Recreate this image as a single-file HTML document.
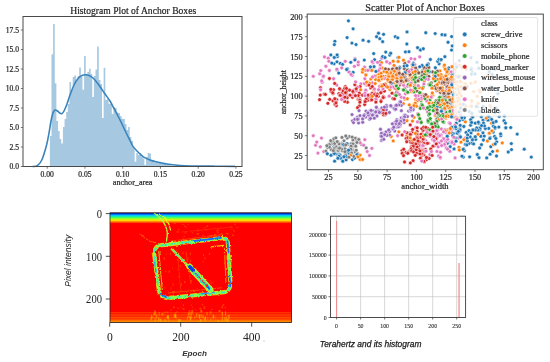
<!DOCTYPE html>
<html lang="en"><head><meta charset="utf-8"><title>Anchor box plots</title>
<style>
html,body{margin:0;padding:0;background:#fff;}
body{width:550px;height:362px;overflow:hidden;}
svg{display:block;}
.ser{font-family:"Liberation Serif","DejaVu Serif",serif;}
.san{font-family:"Liberation Sans","DejaVu Sans",sans-serif;}
#all{filter:blur(0.4px);}
</style></head><body>
<svg width="550" height="362" viewBox="0 0 550 362">
<rect width="550" height="362" fill="#fff"/>
<g id="all">
<g id="hist">
<path d="M49.87,166.5L49.87,136L51.5,136L51.5,54.3L53.13,54.3L53.13,23.9L54.76,23.9L54.76,83.2L56.39,83.2L56.39,121L58.02,121L58.02,131L59.65,131L59.65,139L61.28,139L61.28,143.6L62.91,143.6L62.91,127L64.54,127L64.54,119L66.17,119L66.17,112L67.8,112L67.8,104L69.43,104L69.43,82L71.06,82L71.06,90L72.69,90L72.69,77L74.32,77L74.32,75.5L75.95,75.5L75.95,80L77.58,80L77.58,76L79.21,76L79.21,67.5L80.84,67.5L80.84,77L82.47,77L82.47,89.8L84.1,89.8L84.1,55.9L85.73,55.9L85.73,74L87.36,74L87.36,72L88.99,72L88.99,68.8L90.62,68.8L90.62,74L92.25,74L92.25,97L93.88,97L93.88,76L95.51,76L95.51,69.4L97.14,69.4L97.14,46.5L98.77,46.5L98.77,80L100.4,80L100.4,84L102.03,84L102.03,118L103.66,118L103.66,67.7L105.29,67.7L105.29,100L106.92,100L106.92,99L108.55,99L108.55,103.7L110.18,103.7L110.18,104L111.81,104L111.81,114L113.44,114L113.44,107L115.07,107L115.07,108L116.7,108L116.7,112.5L118.33,112.5L118.33,113L119.96,113L119.96,116L121.59,116L121.59,118.7L123.22,118.7L123.22,119L124.85,119L124.85,124L126.48,124L126.48,130L128.11,130L128.11,127L129.74,127L129.74,137L131.37,137L131.37,141L133,141L133,148L134.63,148L134.63,161.8L136.26,161.8L136.26,153L137.89,153L137.89,155L139.52,155L139.52,153L141.15,153L141.15,157L142.78,157L142.78,158.5L144.41,158.5L144.41,165L146.04,165L146.04,157L147.67,157L147.67,153L149.3,153L149.3,153.5L150.93,153.5L150.93,161L152.56,161L152.56,160.5L154.19,160.5L154.19,162.5L155.82,162.5L155.82,161L157.45,161L157.45,163L159.08,163L159.08,162L160.71,162L160.71,163.5L162.34,163.5L162.34,164L163.97,164L163.97,163L165.6,163L165.6,164.5L167.23,164.5L167.23,164L168.86,164L168.86,165.2L170.49,165.2L170.49,165.5L172.12,165.5L172.12,166.5ZM175.38,166.5L175.38,165.4L177.01,165.4L177.01,166.5ZM186.79,166.5L186.79,165.5L188.42,165.5L188.42,165.2L190.05,165.2L190.05,166.5ZM207.98,166.5L207.98,165.6L209.61,165.6L209.61,166.5ZM211.24,166.5L211.24,165.2L212.87,165.2L212.87,165.4L214.5,165.4L214.5,166.5Z" fill="#a6c8e0"/>
<path d="M32.5,166.5C33.3,166.37 35.75,166.78 37.3,165.7C38.85,164.62 40.43,162.78 41.8,160C43.17,157.22 44.53,152.25 45.5,149C46.47,145.75 46.98,143.33 47.6,140.5C48.22,137.67 48.63,135.25 49.2,132C49.77,128.75 50.37,124.17 51,121C51.63,117.83 52.33,114.83 53,113C53.67,111.17 54.25,110.33 55,110C55.75,109.67 56.67,110.45 57.5,111C58.33,111.55 59.25,112.88 60,113.3C60.75,113.72 61.33,113.88 62,113.5C62.67,113.12 63.17,112.58 64,111C64.83,109.42 66,106.67 67,104C68,101.33 68.83,98.17 70,95C71.17,91.83 72.67,87.75 74,85C75.33,82.25 76.67,80.08 78,78.5C79.33,76.92 80.75,76.12 82,75.5C83.25,74.88 84.33,74.8 85.5,74.8C86.67,74.8 87.75,74.97 89,75.5C90.25,76.03 91.67,76.83 93,78C94.33,79.17 95.67,80.83 97,82.5C98.33,84.17 99.67,86.08 101,88C102.33,89.92 103.5,91.83 105,94C106.5,96.17 108.5,98.58 110,101C111.5,103.42 112.67,106 114,108.5C115.33,111 116.67,113.42 118,116C119.33,118.58 120.67,121.25 122,124C123.33,126.75 124.67,129.75 126,132.5C127.33,135.25 128.83,138.18 130,140.5C131.17,142.82 131.83,144.65 133,146.4C134.17,148.15 135.67,149.6 137,151C138.33,152.4 139.8,153.73 141,154.8C142.2,155.87 142.7,156.53 144.2,157.4C145.7,158.27 148.03,159.27 150,160C151.97,160.73 154.33,161.37 156,161.8C157.67,162.23 158.17,162.23 160,162.6C161.83,162.97 164.5,163.6 167,164C169.5,164.4 172,164.7 175,165C178,165.3 181.67,165.62 185,165.8C188.33,165.98 190,166.03 195,166.1C200,166.17 208.33,166.15 215,166.2C221.67,166.25 231.67,166.37 235,166.4" fill="none" stroke="#3a84bd" stroke-width="1.6" stroke-linejoin="round"/>
<rect x="23" y="16.5" width="219" height="150" fill="none" stroke="#4a4a4a" stroke-width="1"/>
<g stroke="#444" stroke-width="0.7">
<line x1="47.2" y1="166.5" x2="47.2" y2="168.7"/>
<line x1="84.95" y1="166.5" x2="84.95" y2="168.7"/>
<line x1="122.7" y1="166.5" x2="122.7" y2="168.7"/>
<line x1="160.45" y1="166.5" x2="160.45" y2="168.7"/>
<line x1="198.2" y1="166.5" x2="198.2" y2="168.7"/>
<line x1="235.95" y1="166.5" x2="235.95" y2="168.7"/>
<line x1="20.8" y1="166.5" x2="23" y2="166.5"/>
<line x1="20.8" y1="147" x2="23" y2="147"/>
<line x1="20.8" y1="127.5" x2="23" y2="127.5"/>
<line x1="20.8" y1="108" x2="23" y2="108"/>
<line x1="20.8" y1="88.5" x2="23" y2="88.5"/>
<line x1="20.8" y1="69" x2="23" y2="69"/>
<line x1="20.8" y1="49.5" x2="23" y2="49.5"/>
<line x1="20.8" y1="30" x2="23" y2="30"/>
</g>
<g class="ser" font-size="7.6" fill="#262626" stroke="#262626" stroke-width="0.22">
<text x="47.2" y="176.9" text-anchor="middle">0.00</text>
<text x="84.95" y="176.9" text-anchor="middle">0.05</text>
<text x="122.7" y="176.9" text-anchor="middle">0.10</text>
<text x="160.45" y="176.9" text-anchor="middle">0.15</text>
<text x="198.2" y="176.9" text-anchor="middle">0.20</text>
<text x="235.95" y="176.9" text-anchor="middle">0.25</text>
<text x="19" y="169.1" text-anchor="end">0.0</text>
<text x="19" y="149.6" text-anchor="end">2.5</text>
<text x="19" y="130.1" text-anchor="end">5.0</text>
<text x="19" y="110.6" text-anchor="end">7.5</text>
<text x="19" y="91.1" text-anchor="end">10.0</text>
<text x="19" y="71.6" text-anchor="end">12.5</text>
<text x="19" y="52.1" text-anchor="end">15.0</text>
<text x="19" y="32.6" text-anchor="end">17.5</text>
<text x="132.6" y="185.3" text-anchor="middle" font-size="8.1">anchor_area</text>
</g>
<text class="ser" x="70.2" y="13.5" font-size="9.7" fill="#222" stroke="#222" stroke-width="0.2" textLength="126" lengthAdjust="spacingAndGlyphs">Histogram Plot of Anchor Boxes</text>
</g>
<g id="scatter">
<g stroke="#fff" stroke-width="0.55">
<circle cx="397.96" cy="57.62" r="1.9" fill="#1f77b4"/>
<circle cx="342.97" cy="93.2" r="1.9" fill="#d62728"/>
<circle cx="394.14" cy="82.9" r="1.9" fill="#ff7f0e"/>
<circle cx="454.84" cy="71.53" r="1.9" fill="#e377c2"/>
<circle cx="426.79" cy="100.85" r="1.9" fill="#2ca02c"/>
<circle cx="346.17" cy="159.83" r="1.9" fill="#1f77b4"/>
<circle cx="371.61" cy="87.46" r="1.9" fill="#d62728"/>
<circle cx="437.59" cy="116.99" r="1.9" fill="#2ca02c"/>
<circle cx="365.58" cy="115.91" r="1.9" fill="#9467bd"/>
<circle cx="443.27" cy="145.26" r="1.9" fill="#e377c2"/>
<circle cx="412.05" cy="132.34" r="1.9" fill="#d62728"/>
<circle cx="351.94" cy="43.04" r="1.9" fill="#1f77b4"/>
<circle cx="341.9" cy="143.13" r="1.9" fill="#7f7f7f"/>
<circle cx="343.54" cy="98.56" r="1.9" fill="#d62728"/>
<circle cx="416.13" cy="143.55" r="1.9" fill="#d62728"/>
<circle cx="491.58" cy="123.21" r="1.9" fill="#ff7f0e"/>
<circle cx="378.99" cy="62.43" r="1.9" fill="#ff7f0e"/>
<circle cx="447.94" cy="88.19" r="1.9" fill="#8c564b"/>
<circle cx="436.64" cy="119.44" r="1.9" fill="#8c564b"/>
<circle cx="447.24" cy="89.54" r="1.9" fill="#ff7f0e"/>
<circle cx="415.52" cy="140.59" r="1.9" fill="#ff7f0e"/>
<circle cx="419.03" cy="143.85" r="1.9" fill="#d62728"/>
<circle cx="420.65" cy="141.68" r="1.9" fill="#d62728"/>
<circle cx="447.15" cy="95.06" r="1.9" fill="#8c564b"/>
<circle cx="421.92" cy="75.69" r="1.9" fill="#2ca02c"/>
<circle cx="436.97" cy="151.4" r="1.9" fill="#e377c2"/>
<circle cx="433.66" cy="88.11" r="1.9" fill="#2ca02c"/>
<circle cx="470.92" cy="83.34" r="1.9" fill="#ff7f0e"/>
<circle cx="496.72" cy="141.8" r="1.9" fill="#1f77b4"/>
<circle cx="347.37" cy="102.18" r="1.9" fill="#d62728"/>
<circle cx="436.77" cy="113.05" r="1.9" fill="#2ca02c"/>
<circle cx="359.57" cy="141.69" r="1.9" fill="#7f7f7f"/>
<circle cx="457.55" cy="103.56" r="1.9" fill="#ff7f0e"/>
<circle cx="424.04" cy="138.58" r="1.9" fill="#e377c2"/>
<circle cx="396.26" cy="125.69" r="1.9" fill="#9467bd"/>
<circle cx="349.44" cy="136.59" r="1.9" fill="#7f7f7f"/>
<circle cx="470.92" cy="57.76" r="1.9" fill="#1f77b4"/>
<circle cx="404.38" cy="68.74" r="1.9" fill="#8c564b"/>
<circle cx="437.2" cy="137.34" r="1.9" fill="#e377c2"/>
<circle cx="442.65" cy="89.06" r="1.9" fill="#ff7f0e"/>
<circle cx="443.14" cy="104.12" r="1.9" fill="#2ca02c"/>
<circle cx="364.86" cy="78.76" r="1.9" fill="#e377c2"/>
<circle cx="398.11" cy="61.47" r="1.9" fill="#ff7f0e"/>
<circle cx="430.06" cy="99.96" r="1.9" fill="#2ca02c"/>
<circle cx="457.51" cy="96.09" r="1.9" fill="#ff7f0e"/>
<circle cx="371.94" cy="94.71" r="1.9" fill="#e377c2"/>
<circle cx="427.34" cy="157.5" r="1.9" fill="#e377c2"/>
<circle cx="399.99" cy="126.2" r="1.9" fill="#e377c2"/>
<circle cx="408.26" cy="139.8" r="1.9" fill="#d62728"/>
<circle cx="426.98" cy="72.1" r="1.9" fill="#ff7f0e"/>
<circle cx="419.57" cy="137.86" r="1.9" fill="#d62728"/>
<circle cx="402.34" cy="82.39" r="1.9" fill="#ff7f0e"/>
<circle cx="451.76" cy="110.11" r="1.9" fill="#2ca02c"/>
<circle cx="423.55" cy="94.58" r="1.9" fill="#8c564b"/>
<circle cx="368.16" cy="114.74" r="1.9" fill="#d62728"/>
<circle cx="385.34" cy="114.75" r="1.9" fill="#9467bd"/>
<circle cx="442.51" cy="95.9" r="1.9" fill="#ff7f0e"/>
<circle cx="417.9" cy="138.35" r="1.9" fill="#d62728"/>
<circle cx="324.15" cy="94.1" r="1.9" fill="#d62728"/>
<circle cx="402.28" cy="120.98" r="1.9" fill="#9467bd"/>
<circle cx="352.49" cy="120.87" r="1.9" fill="#9467bd"/>
<circle cx="449.65" cy="142.62" r="1.9" fill="#e377c2"/>
<circle cx="389.81" cy="89.48" r="1.9" fill="#ff7f0e"/>
<circle cx="483.04" cy="120.08" r="1.9" fill="#1f77b4"/>
<circle cx="384.06" cy="71.56" r="1.9" fill="#ff7f0e"/>
<circle cx="517.19" cy="134.12" r="1.9" fill="#1f77b4"/>
<circle cx="456.28" cy="123.17" r="1.9" fill="#1f77b4"/>
<circle cx="336.95" cy="147.22" r="1.9" fill="#7f7f7f"/>
<circle cx="359.94" cy="94.38" r="1.9" fill="#d62728"/>
<circle cx="475.26" cy="123.19" r="1.9" fill="#1f77b4"/>
<circle cx="431.25" cy="150.21" r="1.9" fill="#e377c2"/>
<circle cx="394.89" cy="67.44" r="1.9" fill="#1f77b4"/>
<circle cx="494.96" cy="128.44" r="1.9" fill="#1f77b4"/>
<circle cx="354.28" cy="156.67" r="1.9" fill="#ff7f0e"/>
<circle cx="439.26" cy="98.73" r="1.9" fill="#1f77b4"/>
<circle cx="413.95" cy="117.25" r="1.9" fill="#ff7f0e"/>
<circle cx="376.07" cy="75.93" r="1.9" fill="#ff7f0e"/>
<circle cx="485.21" cy="108.38" r="1.9" fill="#1f77b4"/>
<circle cx="389.49" cy="72.73" r="1.9" fill="#ff7f0e"/>
<circle cx="418.9" cy="146.14" r="1.9" fill="#d62728"/>
<circle cx="404.54" cy="162.01" r="1.9" fill="#d62728"/>
<circle cx="422.28" cy="134.02" r="1.9" fill="#d62728"/>
<circle cx="441.03" cy="92.8" r="1.9" fill="#8c564b"/>
<circle cx="417.06" cy="70.48" r="1.9" fill="#8c564b"/>
<circle cx="465.27" cy="138.01" r="1.9" fill="#e377c2"/>
<circle cx="327.65" cy="147.49" r="1.9" fill="#7f7f7f"/>
<circle cx="451.13" cy="71.93" r="1.9" fill="#e377c2"/>
<circle cx="344.42" cy="148.63" r="1.9" fill="#1f77b4"/>
<circle cx="336.74" cy="99.69" r="1.9" fill="#d62728"/>
<circle cx="393.94" cy="74.08" r="1.9" fill="#ff7f0e"/>
<circle cx="416.74" cy="137.24" r="1.9" fill="#d62728"/>
<circle cx="378.18" cy="96.26" r="1.9" fill="#d62728"/>
<circle cx="362.58" cy="95.14" r="1.9" fill="#d62728"/>
<circle cx="425.99" cy="108.82" r="1.9" fill="#2ca02c"/>
<circle cx="373.86" cy="91.38" r="1.9" fill="#ff7f0e"/>
<circle cx="452.4" cy="87.3" r="1.9" fill="#ff7f0e"/>
<circle cx="332.19" cy="154.53" r="1.9" fill="#1f77b4"/>
<circle cx="375.78" cy="101.93" r="1.9" fill="#d62728"/>
<circle cx="461.25" cy="126.12" r="1.9" fill="#ff7f0e"/>
<circle cx="352.47" cy="159.54" r="1.9" fill="#1f77b4"/>
<circle cx="459.79" cy="128.74" r="1.9" fill="#e377c2"/>
<circle cx="436.56" cy="141.43" r="1.9" fill="#e377c2"/>
<circle cx="424.48" cy="161.8" r="1.9" fill="#d62728"/>
<circle cx="453.4" cy="133.33" r="1.9" fill="#1f77b4"/>
<circle cx="379.54" cy="75.42" r="1.9" fill="#ff7f0e"/>
<circle cx="443.34" cy="83.86" r="1.9" fill="#8c564b"/>
<circle cx="381.04" cy="100.5" r="1.9" fill="#d62728"/>
<circle cx="459.47" cy="75.28" r="1.9" fill="#ff7f0e"/>
<circle cx="508.21" cy="151.98" r="1.9" fill="#1f77b4"/>
<circle cx="377.76" cy="110.47" r="1.9" fill="#9467bd"/>
<circle cx="383.37" cy="96.33" r="1.9" fill="#d62728"/>
<circle cx="445.26" cy="93.64" r="1.9" fill="#2ca02c"/>
<circle cx="450.98" cy="92" r="1.9" fill="#ff7f0e"/>
<circle cx="352.39" cy="149.2" r="1.9" fill="#7f7f7f"/>
<circle cx="457.85" cy="86.47" r="1.9" fill="#ff7f0e"/>
<circle cx="446.04" cy="109.23" r="1.9" fill="#2ca02c"/>
<circle cx="369.58" cy="117.09" r="1.9" fill="#9467bd"/>
<circle cx="438.23" cy="106.41" r="1.9" fill="#2ca02c"/>
<circle cx="464.45" cy="150.71" r="1.9" fill="#1f77b4"/>
<circle cx="443.64" cy="122.25" r="1.9" fill="#2ca02c"/>
<circle cx="424.3" cy="80.98" r="1.9" fill="#ff7f0e"/>
<circle cx="454.06" cy="148.93" r="1.9" fill="#1f77b4"/>
<circle cx="408.3" cy="80.04" r="1.9" fill="#8c564b"/>
<circle cx="431.8" cy="133.14" r="1.9" fill="#2ca02c"/>
<circle cx="456.26" cy="94.78" r="1.9" fill="#8c564b"/>
<circle cx="383.22" cy="76.59" r="1.9" fill="#8c564b"/>
<circle cx="489.17" cy="133.62" r="1.9" fill="#ff7f0e"/>
<circle cx="376.25" cy="99.39" r="1.9" fill="#d62728"/>
<circle cx="447.97" cy="73.8" r="1.9" fill="#ff7f0e"/>
<circle cx="442.54" cy="80.44" r="1.9" fill="#8c564b"/>
<circle cx="366.15" cy="147.88" r="1.9" fill="#7f7f7f"/>
<circle cx="337.23" cy="69.96" r="1.9" fill="#1f77b4"/>
<circle cx="438.93" cy="82.61" r="1.9" fill="#ff7f0e"/>
<circle cx="374.52" cy="59.74" r="1.9" fill="#1f77b4"/>
<circle cx="401.2" cy="117.97" r="1.9" fill="#9467bd"/>
<circle cx="406.02" cy="91" r="1.9" fill="#2ca02c"/>
<circle cx="431.33" cy="131.03" r="1.9" fill="#e377c2"/>
<circle cx="449.73" cy="105.79" r="1.9" fill="#8c564b"/>
<circle cx="443.92" cy="92.43" r="1.9" fill="#ff7f0e"/>
<circle cx="399.69" cy="67.13" r="1.9" fill="#8c564b"/>
<circle cx="388.35" cy="76.51" r="1.9" fill="#ff7f0e"/>
<circle cx="356.05" cy="44.54" r="1.9" fill="#1f77b4"/>
<circle cx="421.02" cy="100.64" r="1.9" fill="#2ca02c"/>
<circle cx="456.08" cy="118.61" r="1.9" fill="#e377c2"/>
<circle cx="410.12" cy="150.63" r="1.9" fill="#d62728"/>
<circle cx="423.02" cy="146.51" r="1.9" fill="#d62728"/>
<circle cx="427.62" cy="111.91" r="1.9" fill="#e377c2"/>
<circle cx="411.34" cy="146.84" r="1.9" fill="#d62728"/>
<circle cx="445.97" cy="84.1" r="1.9" fill="#8c564b"/>
<circle cx="328.22" cy="58.24" r="1.9" fill="#e377c2"/>
<circle cx="422.98" cy="95.58" r="1.9" fill="#ff7f0e"/>
<circle cx="397.26" cy="125.34" r="1.9" fill="#9467bd"/>
<circle cx="389.85" cy="129.77" r="1.9" fill="#9467bd"/>
<circle cx="341.05" cy="158.75" r="1.9" fill="#1f77b4"/>
<circle cx="446.66" cy="88.63" r="1.9" fill="#ff7f0e"/>
<circle cx="450.71" cy="105.6" r="1.9" fill="#1f77b4"/>
<circle cx="407.42" cy="116.5" r="1.9" fill="#9467bd"/>
<circle cx="412.12" cy="142.22" r="1.9" fill="#d62728"/>
<circle cx="390.01" cy="78.09" r="1.9" fill="#ff7f0e"/>
<circle cx="425.75" cy="140.61" r="1.9" fill="#e377c2"/>
<circle cx="491.22" cy="56.9" r="1.9" fill="#1f77b4"/>
<circle cx="416.05" cy="73.42" r="1.9" fill="#e377c2"/>
<circle cx="396.36" cy="81.6" r="1.9" fill="#ff7f0e"/>
<circle cx="427.06" cy="127.85" r="1.9" fill="#2ca02c"/>
<circle cx="353.12" cy="72.35" r="1.9" fill="#1f77b4"/>
<circle cx="410.63" cy="78.14" r="1.9" fill="#ff7f0e"/>
<circle cx="394.04" cy="65.39" r="1.9" fill="#ff7f0e"/>
<circle cx="411.67" cy="146.94" r="1.9" fill="#d62728"/>
<circle cx="407.43" cy="86.18" r="1.9" fill="#e377c2"/>
<circle cx="328.98" cy="144.27" r="1.9" fill="#7f7f7f"/>
<circle cx="450.65" cy="103.66" r="1.9" fill="#ff7f0e"/>
<circle cx="454.2" cy="81.29" r="1.9" fill="#1f77b4"/>
<circle cx="454.08" cy="79.44" r="1.9" fill="#8c564b"/>
<circle cx="397.18" cy="78.26" r="1.9" fill="#ff7f0e"/>
<circle cx="331.01" cy="148.93" r="1.9" fill="#7f7f7f"/>
<circle cx="393.05" cy="128.96" r="1.9" fill="#9467bd"/>
<circle cx="352.54" cy="97.24" r="1.9" fill="#d62728"/>
<circle cx="414.7" cy="143.33" r="1.9" fill="#d62728"/>
<circle cx="449.22" cy="108.27" r="1.9" fill="#ff7f0e"/>
<circle cx="435.6" cy="142.74" r="1.9" fill="#e377c2"/>
<circle cx="391.16" cy="136.5" r="1.9" fill="#ff7f0e"/>
<circle cx="415.68" cy="127.44" r="1.9" fill="#e377c2"/>
<circle cx="436.66" cy="109.99" r="1.9" fill="#ff7f0e"/>
<circle cx="462.64" cy="88.74" r="1.9" fill="#8c564b"/>
<circle cx="352.42" cy="148.22" r="1.9" fill="#7f7f7f"/>
<circle cx="493.86" cy="109.14" r="1.9" fill="#1f77b4"/>
<circle cx="396.72" cy="119.84" r="1.9" fill="#9467bd"/>
<circle cx="436.96" cy="124.67" r="1.9" fill="#2ca02c"/>
<circle cx="445.58" cy="84.41" r="1.9" fill="#8c564b"/>
<circle cx="436.58" cy="90.83" r="1.9" fill="#e377c2"/>
<circle cx="496.5" cy="156" r="1.9" fill="#1f77b4"/>
<circle cx="350.77" cy="62.34" r="1.9" fill="#1f77b4"/>
<circle cx="395.07" cy="123.72" r="1.9" fill="#9467bd"/>
<circle cx="394.91" cy="109.54" r="1.9" fill="#9467bd"/>
<circle cx="396.3" cy="125.98" r="1.9" fill="#9467bd"/>
<circle cx="337" cy="61.84" r="1.9" fill="#1f77b4"/>
<circle cx="384.12" cy="133.02" r="1.9" fill="#9467bd"/>
<circle cx="449.95" cy="103.13" r="1.9" fill="#1f77b4"/>
<circle cx="450.26" cy="131.8" r="1.9" fill="#1f77b4"/>
<circle cx="389.41" cy="86.48" r="1.9" fill="#ff7f0e"/>
<circle cx="446.83" cy="83.22" r="1.9" fill="#8c564b"/>
<circle cx="405.48" cy="77.69" r="1.9" fill="#8c564b"/>
<circle cx="406.9" cy="135.65" r="1.9" fill="#ff7f0e"/>
<circle cx="332.91" cy="100.78" r="1.9" fill="#d62728"/>
<circle cx="478.99" cy="157.69" r="1.9" fill="#1f77b4"/>
<circle cx="404.74" cy="88.46" r="1.9" fill="#e377c2"/>
<circle cx="459.59" cy="65.32" r="1.9" fill="#ff7f0e"/>
<circle cx="448.83" cy="90.07" r="1.9" fill="#ff7f0e"/>
<circle cx="466.35" cy="139.93" r="1.9" fill="#1f77b4"/>
<circle cx="469.36" cy="111.73" r="1.9" fill="#1f77b4"/>
<circle cx="398.63" cy="104.93" r="1.9" fill="#9467bd"/>
<circle cx="415.76" cy="104.4" r="1.9" fill="#ff7f0e"/>
<circle cx="459.85" cy="136.1" r="1.9" fill="#1f77b4"/>
<circle cx="448.93" cy="106.23" r="1.9" fill="#8c564b"/>
<circle cx="370.07" cy="111.61" r="1.9" fill="#9467bd"/>
<circle cx="424.06" cy="107.72" r="1.9" fill="#ff7f0e"/>
<circle cx="453.84" cy="116.21" r="1.9" fill="#ff7f0e"/>
<circle cx="338.88" cy="93.68" r="1.9" fill="#d62728"/>
<circle cx="347.17" cy="138.05" r="1.9" fill="#7f7f7f"/>
<circle cx="439.91" cy="70.97" r="1.9" fill="#ff7f0e"/>
<circle cx="336.79" cy="154.21" r="1.9" fill="#1f77b4"/>
<circle cx="436.79" cy="102.06" r="1.9" fill="#ff7f0e"/>
<circle cx="449.78" cy="92.96" r="1.9" fill="#8c564b"/>
<circle cx="426.56" cy="130.21" r="1.9" fill="#d62728"/>
<circle cx="435.4" cy="111.11" r="1.9" fill="#ff7f0e"/>
<circle cx="338.78" cy="151.41" r="1.9" fill="#7f7f7f"/>
<circle cx="435.25" cy="115.43" r="1.9" fill="#ff7f0e"/>
<circle cx="399.64" cy="102.52" r="1.9" fill="#9467bd"/>
<circle cx="396.09" cy="122.54" r="1.9" fill="#9467bd"/>
<circle cx="461.37" cy="88.26" r="1.9" fill="#ff7f0e"/>
<circle cx="426.72" cy="100.72" r="1.9" fill="#e377c2"/>
<circle cx="460.71" cy="109.57" r="1.9" fill="#e377c2"/>
<circle cx="434.72" cy="126.29" r="1.9" fill="#d62728"/>
<circle cx="347.63" cy="144.43" r="1.9" fill="#7f7f7f"/>
<circle cx="412.35" cy="64.55" r="1.9" fill="#8c564b"/>
<circle cx="421.09" cy="121.84" r="1.9" fill="#d62728"/>
<circle cx="417.29" cy="134.77" r="1.9" fill="#d62728"/>
<circle cx="404.75" cy="76.13" r="1.9" fill="#1f77b4"/>
<circle cx="422.44" cy="70.92" r="1.9" fill="#2ca02c"/>
<circle cx="409.92" cy="85.76" r="1.9" fill="#2ca02c"/>
<circle cx="383.75" cy="111.25" r="1.9" fill="#d62728"/>
<circle cx="446.81" cy="89.61" r="1.9" fill="#e377c2"/>
<circle cx="472.67" cy="129.79" r="1.9" fill="#1f77b4"/>
<circle cx="423.55" cy="128.86" r="1.9" fill="#d62728"/>
<circle cx="423.88" cy="151.8" r="1.9" fill="#d62728"/>
<circle cx="441.45" cy="110.5" r="1.9" fill="#2ca02c"/>
<circle cx="424.35" cy="142.03" r="1.9" fill="#e377c2"/>
<circle cx="477.3" cy="154.49" r="1.9" fill="#1f77b4"/>
<circle cx="441.84" cy="83.82" r="1.9" fill="#ff7f0e"/>
<circle cx="334.89" cy="151.29" r="1.9" fill="#1f77b4"/>
<circle cx="500.78" cy="135.7" r="1.9" fill="#1f77b4"/>
<circle cx="448.21" cy="86.84" r="1.9" fill="#8c564b"/>
<circle cx="395.3" cy="36.7" r="1.9" fill="#1f77b4"/>
<circle cx="372.87" cy="111" r="1.9" fill="#9467bd"/>
<circle cx="403.34" cy="103.68" r="1.9" fill="#ff7f0e"/>
<circle cx="455.08" cy="157.88" r="1.9" fill="#e377c2"/>
<circle cx="453.13" cy="114.04" r="1.9" fill="#ff7f0e"/>
<circle cx="354.88" cy="155.85" r="1.9" fill="#ff7f0e"/>
<circle cx="458.94" cy="147.37" r="1.9" fill="#ff7f0e"/>
<circle cx="343.79" cy="145.29" r="1.9" fill="#7f7f7f"/>
<circle cx="407.36" cy="79.35" r="1.9" fill="#ff7f0e"/>
<circle cx="477.53" cy="106.87" r="1.9" fill="#1f77b4"/>
<circle cx="442.93" cy="95.54" r="1.9" fill="#ff7f0e"/>
<circle cx="401.24" cy="105.47" r="1.9" fill="#9467bd"/>
<circle cx="482.98" cy="132.84" r="1.9" fill="#1f77b4"/>
<circle cx="444.35" cy="116.77" r="1.9" fill="#ff7f0e"/>
<circle cx="442.11" cy="99.95" r="1.9" fill="#8c564b"/>
<circle cx="347.71" cy="156.99" r="1.9" fill="#1f77b4"/>
<circle cx="390.19" cy="105.94" r="1.9" fill="#9467bd"/>
<circle cx="447.46" cy="105.35" r="1.9" fill="#ff7f0e"/>
<circle cx="360.07" cy="159.51" r="1.9" fill="#ff7f0e"/>
<circle cx="404.14" cy="122.54" r="1.9" fill="#9467bd"/>
<circle cx="396.57" cy="79.32" r="1.9" fill="#ff7f0e"/>
<circle cx="365.66" cy="74.6" r="1.9" fill="#e377c2"/>
<circle cx="440.36" cy="158.08" r="1.9" fill="#e377c2"/>
<circle cx="382.06" cy="68" r="1.9" fill="#ff7f0e"/>
<circle cx="471.5" cy="143.01" r="1.9" fill="#1f77b4"/>
<circle cx="414.51" cy="150.8" r="1.9" fill="#d62728"/>
<circle cx="352.3" cy="154.58" r="1.9" fill="#1f77b4"/>
<circle cx="385.81" cy="76.48" r="1.9" fill="#ff7f0e"/>
<circle cx="396.85" cy="119.66" r="1.9" fill="#9467bd"/>
<circle cx="402.05" cy="150.4" r="1.9" fill="#d62728"/>
<circle cx="446.57" cy="97.5" r="1.9" fill="#8c564b"/>
<circle cx="337.39" cy="56.62" r="1.9" fill="#1f77b4"/>
<circle cx="421.37" cy="76.62" r="1.9" fill="#2ca02c"/>
<circle cx="421.47" cy="99.11" r="1.9" fill="#ff7f0e"/>
<circle cx="478.13" cy="103.5" r="1.9" fill="#ff7f0e"/>
<circle cx="401.51" cy="81.86" r="1.9" fill="#8c564b"/>
<circle cx="338.16" cy="156.57" r="1.9" fill="#7f7f7f"/>
<circle cx="442.89" cy="121.5" r="1.9" fill="#2ca02c"/>
<circle cx="405.44" cy="51.94" r="1.9" fill="#1f77b4"/>
<circle cx="409.47" cy="137.02" r="1.9" fill="#d62728"/>
<circle cx="456.72" cy="98.87" r="1.9" fill="#ff7f0e"/>
<circle cx="457.81" cy="118.81" r="1.9" fill="#ff7f0e"/>
<circle cx="370.6" cy="97.49" r="1.9" fill="#ff7f0e"/>
<circle cx="480.83" cy="136.27" r="1.9" fill="#1f77b4"/>
<circle cx="315.61" cy="145.2" r="1.9" fill="#e377c2"/>
<circle cx="490.37" cy="77.51" r="1.9" fill="#ff7f0e"/>
<circle cx="346.84" cy="151.26" r="1.9" fill="#7f7f7f"/>
<circle cx="460" cy="113.41" r="1.9" fill="#1f77b4"/>
<circle cx="339.3" cy="154.62" r="1.9" fill="#1f77b4"/>
<circle cx="344.48" cy="146.13" r="1.9" fill="#7f7f7f"/>
<circle cx="394.16" cy="126.02" r="1.9" fill="#9467bd"/>
<circle cx="316.78" cy="142.04" r="1.9" fill="#e377c2"/>
<circle cx="479.36" cy="111.61" r="1.9" fill="#1f77b4"/>
<circle cx="426.43" cy="74.75" r="1.9" fill="#ff7f0e"/>
<circle cx="460.46" cy="81.97" r="1.9" fill="#1f77b4"/>
<circle cx="437.81" cy="114.71" r="1.9" fill="#2ca02c"/>
<circle cx="448.13" cy="85.08" r="1.9" fill="#ff7f0e"/>
<circle cx="421.79" cy="104.29" r="1.9" fill="#2ca02c"/>
<circle cx="369.52" cy="155.5" r="1.9" fill="#e377c2"/>
<circle cx="382.49" cy="133.12" r="1.9" fill="#9467bd"/>
<circle cx="409.86" cy="133.26" r="1.9" fill="#d62728"/>
<circle cx="370.84" cy="79.04" r="1.9" fill="#ff7f0e"/>
<circle cx="451.42" cy="143.05" r="1.9" fill="#e377c2"/>
<circle cx="359.37" cy="105.86" r="1.9" fill="#d62728"/>
<circle cx="447.11" cy="129.83" r="1.9" fill="#e377c2"/>
<circle cx="352.48" cy="149.8" r="1.9" fill="#7f7f7f"/>
<circle cx="353.4" cy="95.17" r="1.9" fill="#e377c2"/>
<circle cx="369.89" cy="110.75" r="1.9" fill="#9467bd"/>
<circle cx="436.23" cy="100.55" r="1.9" fill="#2ca02c"/>
<circle cx="401.29" cy="97.14" r="1.9" fill="#e377c2"/>
<circle cx="463.65" cy="148.83" r="1.9" fill="#1f77b4"/>
<circle cx="465.98" cy="106.19" r="1.9" fill="#ff7f0e"/>
<circle cx="452.6" cy="128.58" r="1.9" fill="#ff7f0e"/>
<circle cx="425.46" cy="149.4" r="1.9" fill="#d62728"/>
<circle cx="459.31" cy="150" r="1.9" fill="#ff7f0e"/>
<circle cx="353.79" cy="90.19" r="1.9" fill="#e377c2"/>
<circle cx="427" cy="133.26" r="1.9" fill="#d62728"/>
<circle cx="421.46" cy="95.82" r="1.9" fill="#e377c2"/>
<circle cx="410.83" cy="149.15" r="1.9" fill="#d62728"/>
<circle cx="369.21" cy="111.71" r="1.9" fill="#9467bd"/>
<circle cx="411.02" cy="58.61" r="1.9" fill="#e377c2"/>
<circle cx="505.47" cy="127.78" r="1.9" fill="#1f77b4"/>
<circle cx="338.4" cy="150.92" r="1.9" fill="#7f7f7f"/>
<circle cx="331.76" cy="143.98" r="1.9" fill="#7f7f7f"/>
<circle cx="392.98" cy="98.61" r="1.9" fill="#d62728"/>
<circle cx="446.88" cy="86.72" r="1.9" fill="#8c564b"/>
<circle cx="345.8" cy="135.99" r="1.9" fill="#7f7f7f"/>
<circle cx="433.97" cy="106.46" r="1.9" fill="#ff7f0e"/>
<circle cx="375.45" cy="114.39" r="1.9" fill="#9467bd"/>
<circle cx="346.17" cy="155.45" r="1.9" fill="#1f77b4"/>
<circle cx="408.6" cy="111.11" r="1.9" fill="#9467bd"/>
<circle cx="386.4" cy="105.32" r="1.9" fill="#9467bd"/>
<circle cx="447.2" cy="143.23" r="1.9" fill="#1f77b4"/>
<circle cx="436.52" cy="88.87" r="1.9" fill="#ff7f0e"/>
<circle cx="364.96" cy="101.03" r="1.9" fill="#d62728"/>
<circle cx="455.61" cy="137.88" r="1.9" fill="#1f77b4"/>
<circle cx="451.4" cy="107.32" r="1.9" fill="#ff7f0e"/>
<circle cx="422.47" cy="147.12" r="1.9" fill="#d62728"/>
<circle cx="455.19" cy="109.93" r="1.9" fill="#ff7f0e"/>
<circle cx="440.47" cy="92.41" r="1.9" fill="#8c564b"/>
<circle cx="449.85" cy="97.63" r="1.9" fill="#ff7f0e"/>
<circle cx="497.27" cy="150.94" r="1.9" fill="#ff7f0e"/>
<circle cx="333.99" cy="63.83" r="1.9" fill="#1f77b4"/>
<circle cx="459.81" cy="128.88" r="1.9" fill="#1f77b4"/>
<circle cx="443.41" cy="100.42" r="1.9" fill="#ff7f0e"/>
<circle cx="353.82" cy="93.2" r="1.9" fill="#d62728"/>
<circle cx="374.95" cy="92.74" r="1.9" fill="#e377c2"/>
<circle cx="417.49" cy="121.94" r="1.9" fill="#e377c2"/>
<circle cx="434.43" cy="107.31" r="1.9" fill="#ff7f0e"/>
<circle cx="451.82" cy="99.28" r="1.9" fill="#ff7f0e"/>
<circle cx="404.41" cy="115.24" r="1.9" fill="#9467bd"/>
<circle cx="419.06" cy="77.89" r="1.9" fill="#2ca02c"/>
<circle cx="454.13" cy="143.98" r="1.9" fill="#e377c2"/>
<circle cx="471.36" cy="122.11" r="1.9" fill="#1f77b4"/>
<circle cx="437.65" cy="100.9" r="1.9" fill="#8c564b"/>
<circle cx="483.17" cy="106.5" r="1.9" fill="#1f77b4"/>
<circle cx="372.21" cy="70.05" r="1.9" fill="#e377c2"/>
<circle cx="414.36" cy="103.8" r="1.9" fill="#ff7f0e"/>
<circle cx="465.36" cy="121.85" r="1.9" fill="#ff7f0e"/>
<circle cx="475.57" cy="138.47" r="1.9" fill="#1f77b4"/>
<circle cx="447.54" cy="86.8" r="1.9" fill="#8c564b"/>
<circle cx="470.93" cy="106.52" r="1.9" fill="#1f77b4"/>
<circle cx="418.92" cy="115.9" r="1.9" fill="#ff7f0e"/>
<circle cx="415.7" cy="99.38" r="1.9" fill="#ff7f0e"/>
<circle cx="334.36" cy="149.84" r="1.9" fill="#7f7f7f"/>
<circle cx="337.73" cy="141.74" r="1.9" fill="#7f7f7f"/>
<circle cx="378.66" cy="112.4" r="1.9" fill="#9467bd"/>
<circle cx="454.61" cy="101.35" r="1.9" fill="#ff7f0e"/>
<circle cx="356.13" cy="138.45" r="1.9" fill="#7f7f7f"/>
<circle cx="334.15" cy="146.38" r="1.9" fill="#1f77b4"/>
<circle cx="421.31" cy="98.16" r="1.9" fill="#e377c2"/>
<circle cx="394.65" cy="88.11" r="1.9" fill="#d62728"/>
<circle cx="402.1" cy="134.99" r="1.9" fill="#d62728"/>
<circle cx="380.6" cy="109.87" r="1.9" fill="#9467bd"/>
<circle cx="444.28" cy="66.66" r="1.9" fill="#ff7f0e"/>
<circle cx="444.81" cy="145.11" r="1.9" fill="#e377c2"/>
<circle cx="327.89" cy="103.32" r="1.9" fill="#d62728"/>
<circle cx="365.96" cy="111.04" r="1.9" fill="#9467bd"/>
<circle cx="440.34" cy="115.71" r="1.9" fill="#2ca02c"/>
<circle cx="441.98" cy="34.68" r="1.9" fill="#1f77b4"/>
<circle cx="421.88" cy="141.8" r="1.9" fill="#d62728"/>
<circle cx="388.43" cy="69.46" r="1.9" fill="#8c564b"/>
<circle cx="366.58" cy="85.19" r="1.9" fill="#e377c2"/>
<circle cx="362.39" cy="72.01" r="1.9" fill="#ff7f0e"/>
<circle cx="331.37" cy="149.69" r="1.9" fill="#7f7f7f"/>
<circle cx="463.21" cy="149.36" r="1.9" fill="#1f77b4"/>
<circle cx="436.75" cy="121.06" r="1.9" fill="#8c564b"/>
<circle cx="464.44" cy="83.66" r="1.9" fill="#ff7f0e"/>
<circle cx="448.91" cy="67.84" r="1.9" fill="#1f77b4"/>
<circle cx="408.66" cy="133.52" r="1.9" fill="#d62728"/>
<circle cx="445.62" cy="141.85" r="1.9" fill="#e377c2"/>
<circle cx="411.74" cy="146.65" r="1.9" fill="#d62728"/>
<circle cx="451.14" cy="84.51" r="1.9" fill="#ff7f0e"/>
<circle cx="400.85" cy="82.74" r="1.9" fill="#e377c2"/>
<circle cx="457.58" cy="89.81" r="1.9" fill="#ff7f0e"/>
<circle cx="442.65" cy="116.99" r="1.9" fill="#ff7f0e"/>
<circle cx="420.42" cy="49.99" r="1.9" fill="#1f77b4"/>
<circle cx="334.86" cy="41.28" r="1.9" fill="#1f77b4"/>
<circle cx="331.27" cy="91.52" r="1.9" fill="#d62728"/>
<circle cx="430.02" cy="120.7" r="1.9" fill="#8c564b"/>
<circle cx="378.51" cy="33.17" r="1.9" fill="#1f77b4"/>
<circle cx="447.68" cy="78.76" r="1.9" fill="#ff7f0e"/>
<circle cx="393.19" cy="140.91" r="1.9" fill="#ff7f0e"/>
<circle cx="372.94" cy="62.88" r="1.9" fill="#e377c2"/>
<circle cx="379.84" cy="75.34" r="1.9" fill="#ff7f0e"/>
<circle cx="432.56" cy="71.93" r="1.9" fill="#8c564b"/>
<circle cx="420.09" cy="145.48" r="1.9" fill="#d62728"/>
<circle cx="366.61" cy="83.84" r="1.9" fill="#ff7f0e"/>
<circle cx="460.48" cy="82.91" r="1.9" fill="#ff7f0e"/>
<circle cx="405.33" cy="93.78" r="1.9" fill="#e377c2"/>
<circle cx="403.31" cy="118.46" r="1.9" fill="#9467bd"/>
<circle cx="443.84" cy="95.12" r="1.9" fill="#2ca02c"/>
<circle cx="376.95" cy="108.96" r="1.9" fill="#9467bd"/>
<circle cx="457.02" cy="76.8" r="1.9" fill="#ff7f0e"/>
<circle cx="410.25" cy="84.61" r="1.9" fill="#ff7f0e"/>
<circle cx="337.14" cy="54.82" r="1.9" fill="#1f77b4"/>
<circle cx="335.43" cy="146.37" r="1.9" fill="#7f7f7f"/>
<circle cx="365.71" cy="117.01" r="1.9" fill="#9467bd"/>
<circle cx="354.93" cy="58.56" r="1.9" fill="#e377c2"/>
<circle cx="423.89" cy="154.81" r="1.9" fill="#d62728"/>
<circle cx="397.65" cy="135.7" r="1.9" fill="#e377c2"/>
<circle cx="397.47" cy="81.71" r="1.9" fill="#e377c2"/>
<circle cx="456.09" cy="89.14" r="1.9" fill="#ff7f0e"/>
<circle cx="423.28" cy="135.66" r="1.9" fill="#d62728"/>
<circle cx="460.68" cy="114.95" r="1.9" fill="#e377c2"/>
<circle cx="334.62" cy="161.14" r="1.9" fill="#1f77b4"/>
<circle cx="446.88" cy="93.41" r="1.9" fill="#8c564b"/>
<circle cx="471.69" cy="101.85" r="1.9" fill="#ff7f0e"/>
<circle cx="368.75" cy="114.79" r="1.9" fill="#d62728"/>
<circle cx="494.58" cy="136.44" r="1.9" fill="#1f77b4"/>
<circle cx="417.3" cy="137.25" r="1.9" fill="#d62728"/>
<circle cx="415.34" cy="103.04" r="1.9" fill="#ff7f0e"/>
<circle cx="490.8" cy="146.72" r="1.9" fill="#1f77b4"/>
<circle cx="411.9" cy="148.47" r="1.9" fill="#d62728"/>
<circle cx="334.36" cy="44.62" r="1.9" fill="#1f77b4"/>
<circle cx="355.15" cy="151.95" r="1.9" fill="#7f7f7f"/>
<circle cx="379.12" cy="80.44" r="1.9" fill="#ff7f0e"/>
<circle cx="358.56" cy="122.94" r="1.9" fill="#9467bd"/>
<circle cx="477.19" cy="96.32" r="1.9" fill="#ff7f0e"/>
<circle cx="454.88" cy="125.37" r="1.9" fill="#e377c2"/>
<circle cx="453.19" cy="116.88" r="1.9" fill="#ff7f0e"/>
<circle cx="445.72" cy="114.07" r="1.9" fill="#2ca02c"/>
<circle cx="472.5" cy="117.18" r="1.9" fill="#1f77b4"/>
<circle cx="445.77" cy="80.16" r="1.9" fill="#ff7f0e"/>
<circle cx="435.76" cy="108.35" r="1.9" fill="#ff7f0e"/>
<circle cx="457.33" cy="66.5" r="1.9" fill="#e377c2"/>
<circle cx="395.83" cy="106.78" r="1.9" fill="#9467bd"/>
<circle cx="414.14" cy="106.75" r="1.9" fill="#9467bd"/>
<circle cx="441.03" cy="142.18" r="1.9" fill="#e377c2"/>
<circle cx="336.13" cy="101.97" r="1.9" fill="#d62728"/>
<circle cx="439.11" cy="63.87" r="1.9" fill="#1f77b4"/>
<circle cx="432.55" cy="138.9" r="1.9" fill="#d62728"/>
<circle cx="343.26" cy="95.08" r="1.9" fill="#e377c2"/>
<circle cx="425.54" cy="67.24" r="1.9" fill="#1f77b4"/>
<circle cx="465.3" cy="84.87" r="1.9" fill="#ff7f0e"/>
<circle cx="385.28" cy="83.9" r="1.9" fill="#ff7f0e"/>
<circle cx="418.4" cy="150.47" r="1.9" fill="#d62728"/>
<circle cx="466.11" cy="132.4" r="1.9" fill="#1f77b4"/>
<circle cx="493.2" cy="132.03" r="1.9" fill="#1f77b4"/>
<circle cx="429.17" cy="84.52" r="1.9" fill="#8c564b"/>
<circle cx="452.42" cy="111.24" r="1.9" fill="#1f77b4"/>
<circle cx="446.07" cy="118.1" r="1.9" fill="#ff7f0e"/>
<circle cx="333.52" cy="89.72" r="1.9" fill="#d62728"/>
<circle cx="445.97" cy="112.24" r="1.9" fill="#2ca02c"/>
<circle cx="434.29" cy="78.26" r="1.9" fill="#2ca02c"/>
<circle cx="406.14" cy="138.25" r="1.9" fill="#d62728"/>
<circle cx="479.97" cy="111.59" r="1.9" fill="#1f77b4"/>
<circle cx="401.39" cy="110.72" r="1.9" fill="#9467bd"/>
<circle cx="488.68" cy="128.41" r="1.9" fill="#1f77b4"/>
<circle cx="419.87" cy="142.08" r="1.9" fill="#d62728"/>
<circle cx="416.56" cy="151.46" r="1.9" fill="#d62728"/>
<circle cx="435.36" cy="88.59" r="1.9" fill="#ff7f0e"/>
<circle cx="421.67" cy="155.26" r="1.9" fill="#d62728"/>
<circle cx="451.45" cy="101.81" r="1.9" fill="#1f77b4"/>
<circle cx="370.76" cy="87.93" r="1.9" fill="#d62728"/>
<circle cx="390.25" cy="72.72" r="1.9" fill="#ff7f0e"/>
<circle cx="421.01" cy="134.28" r="1.9" fill="#d62728"/>
<circle cx="381.53" cy="85" r="1.9" fill="#ff7f0e"/>
<circle cx="511.33" cy="143.62" r="1.9" fill="#1f77b4"/>
<circle cx="361.48" cy="144.47" r="1.9" fill="#7f7f7f"/>
<circle cx="449.65" cy="111.7" r="1.9" fill="#ff7f0e"/>
<circle cx="380.11" cy="68.62" r="1.9" fill="#e377c2"/>
<circle cx="434.41" cy="74.99" r="1.9" fill="#2ca02c"/>
<circle cx="423.3" cy="138.45" r="1.9" fill="#d62728"/>
<circle cx="337.71" cy="148.16" r="1.9" fill="#7f7f7f"/>
<circle cx="455.21" cy="111.57" r="1.9" fill="#ff7f0e"/>
<circle cx="460.01" cy="111.48" r="1.9" fill="#1f77b4"/>
<circle cx="343.99" cy="140.82" r="1.9" fill="#7f7f7f"/>
<circle cx="451.65" cy="111.29" r="1.9" fill="#ff7f0e"/>
<circle cx="404.86" cy="63.24" r="1.9" fill="#8c564b"/>
<circle cx="323.12" cy="76.94" r="1.9" fill="#e377c2"/>
<circle cx="391.53" cy="83.16" r="1.9" fill="#1f77b4"/>
<circle cx="393.88" cy="76.12" r="1.9" fill="#ff7f0e"/>
<circle cx="349.63" cy="72.34" r="1.9" fill="#1f77b4"/>
<circle cx="473.43" cy="138.61" r="1.9" fill="#1f77b4"/>
<circle cx="384.81" cy="78.42" r="1.9" fill="#e377c2"/>
<circle cx="358.55" cy="154.86" r="1.9" fill="#ff7f0e"/>
<circle cx="413.17" cy="80.6" r="1.9" fill="#2ca02c"/>
<circle cx="370" cy="69.55" r="1.9" fill="#1f77b4"/>
<circle cx="413.13" cy="109.75" r="1.9" fill="#9467bd"/>
<circle cx="418.47" cy="140.27" r="1.9" fill="#d62728"/>
<circle cx="392.08" cy="93.22" r="1.9" fill="#d62728"/>
<circle cx="370.43" cy="95.14" r="1.9" fill="#e377c2"/>
<circle cx="339.73" cy="146.78" r="1.9" fill="#7f7f7f"/>
<circle cx="344.53" cy="151.79" r="1.9" fill="#7f7f7f"/>
<circle cx="365.14" cy="93.96" r="1.9" fill="#d62728"/>
<circle cx="397" cy="122.66" r="1.9" fill="#9467bd"/>
<circle cx="417.09" cy="131.38" r="1.9" fill="#d62728"/>
<circle cx="476.36" cy="106.4" r="1.9" fill="#1f77b4"/>
<circle cx="358.27" cy="99.27" r="1.9" fill="#d62728"/>
<circle cx="408.74" cy="73.82" r="1.9" fill="#1f77b4"/>
<circle cx="456.02" cy="128.84" r="1.9" fill="#1f77b4"/>
<circle cx="460.24" cy="125.29" r="1.9" fill="#1f77b4"/>
<circle cx="426.7" cy="135.3" r="1.9" fill="#d62728"/>
<circle cx="424.35" cy="70.13" r="1.9" fill="#8c564b"/>
<circle cx="386.7" cy="133.52" r="1.9" fill="#9467bd"/>
<circle cx="445.27" cy="107.94" r="1.9" fill="#ff7f0e"/>
<circle cx="451.32" cy="132.5" r="1.9" fill="#1f77b4"/>
<circle cx="398.95" cy="57.32" r="1.9" fill="#ff7f0e"/>
<circle cx="468.93" cy="143.61" r="1.9" fill="#1f77b4"/>
<circle cx="456.05" cy="113.75" r="1.9" fill="#ff7f0e"/>
<circle cx="453.76" cy="111.54" r="1.9" fill="#1f77b4"/>
<circle cx="372.24" cy="82.99" r="1.9" fill="#e377c2"/>
<circle cx="389.38" cy="112.49" r="1.9" fill="#9467bd"/>
<circle cx="472.1" cy="72.33" r="1.9" fill="#1f77b4"/>
<circle cx="451.47" cy="111.71" r="1.9" fill="#ff7f0e"/>
<circle cx="454.27" cy="67.71" r="1.9" fill="#1f77b4"/>
<circle cx="357.51" cy="119.93" r="1.9" fill="#9467bd"/>
<circle cx="382.16" cy="91.85" r="1.9" fill="#d62728"/>
<circle cx="345.01" cy="97.68" r="1.9" fill="#d62728"/>
<circle cx="446.42" cy="107.41" r="1.9" fill="#ff7f0e"/>
<circle cx="453.41" cy="113.04" r="1.9" fill="#ff7f0e"/>
<circle cx="441.53" cy="102.09" r="1.9" fill="#e377c2"/>
<circle cx="398.37" cy="105.31" r="1.9" fill="#9467bd"/>
<circle cx="429.91" cy="131.69" r="1.9" fill="#2ca02c"/>
<circle cx="342.27" cy="144.13" r="1.9" fill="#7f7f7f"/>
<circle cx="407.18" cy="80.14" r="1.9" fill="#8c564b"/>
<circle cx="396.98" cy="127.05" r="1.9" fill="#9467bd"/>
<circle cx="367.97" cy="82.25" r="1.9" fill="#ff7f0e"/>
<circle cx="448.69" cy="82.6" r="1.9" fill="#8c564b"/>
<circle cx="420.46" cy="92.83" r="1.9" fill="#ff7f0e"/>
<circle cx="490.71" cy="118.88" r="1.9" fill="#1f77b4"/>
<circle cx="410.43" cy="141.06" r="1.9" fill="#d62728"/>
<circle cx="369.59" cy="119.32" r="1.9" fill="#9467bd"/>
<circle cx="329.4" cy="70.5" r="1.9" fill="#e377c2"/>
<circle cx="348.89" cy="71.86" r="1.9" fill="#e377c2"/>
<circle cx="423.15" cy="87.08" r="1.9" fill="#2ca02c"/>
<circle cx="411.39" cy="148.63" r="1.9" fill="#d62728"/>
<circle cx="414.81" cy="59.03" r="1.9" fill="#e377c2"/>
<circle cx="400.81" cy="74.59" r="1.9" fill="#ff7f0e"/>
<circle cx="333.58" cy="78.75" r="1.9" fill="#e377c2"/>
<circle cx="479.5" cy="127.93" r="1.9" fill="#1f77b4"/>
<circle cx="454.97" cy="101.69" r="1.9" fill="#ff7f0e"/>
<circle cx="391.4" cy="106.61" r="1.9" fill="#9467bd"/>
<circle cx="417.57" cy="47.64" r="1.9" fill="#1f77b4"/>
<circle cx="461.16" cy="95.99" r="1.9" fill="#ff7f0e"/>
<circle cx="450.92" cy="85.97" r="1.9" fill="#ff7f0e"/>
<circle cx="347.1" cy="37.53" r="1.9" fill="#1f77b4"/>
<circle cx="433.27" cy="110.64" r="1.9" fill="#2ca02c"/>
<circle cx="399.57" cy="78.24" r="1.9" fill="#ff7f0e"/>
<circle cx="452.76" cy="135.73" r="1.9" fill="#1f77b4"/>
<circle cx="451.16" cy="130.38" r="1.9" fill="#e377c2"/>
<circle cx="386.07" cy="131.86" r="1.9" fill="#9467bd"/>
<circle cx="438.81" cy="119.83" r="1.9" fill="#ff7f0e"/>
<circle cx="449.18" cy="122.87" r="1.9" fill="#e377c2"/>
<circle cx="422.4" cy="88.42" r="1.9" fill="#ff7f0e"/>
<circle cx="438.22" cy="146.81" r="1.9" fill="#e377c2"/>
<circle cx="373.98" cy="89.93" r="1.9" fill="#ff7f0e"/>
<circle cx="436.36" cy="139.05" r="1.9" fill="#e377c2"/>
<circle cx="352.01" cy="114.61" r="1.9" fill="#9467bd"/>
<circle cx="442.41" cy="87.94" r="1.9" fill="#ff7f0e"/>
<circle cx="379.63" cy="80.08" r="1.9" fill="#ff7f0e"/>
<circle cx="351.72" cy="154.13" r="1.9" fill="#1f77b4"/>
<circle cx="354.27" cy="145.53" r="1.9" fill="#7f7f7f"/>
<circle cx="469.65" cy="156.87" r="1.9" fill="#1f77b4"/>
<circle cx="431.1" cy="149.27" r="1.9" fill="#d62728"/>
<circle cx="444.58" cy="98.83" r="1.9" fill="#8c564b"/>
<circle cx="371.04" cy="114.09" r="1.9" fill="#9467bd"/>
<circle cx="360.9" cy="83.86" r="1.9" fill="#e377c2"/>
<circle cx="426.53" cy="159.54" r="1.9" fill="#d62728"/>
<circle cx="436.79" cy="121.43" r="1.9" fill="#2ca02c"/>
<circle cx="410.77" cy="91.53" r="1.9" fill="#ff7f0e"/>
<circle cx="448.26" cy="107.03" r="1.9" fill="#ff7f0e"/>
<circle cx="484.22" cy="136.12" r="1.9" fill="#1f77b4"/>
<circle cx="452.07" cy="66.69" r="1.9" fill="#ff7f0e"/>
<circle cx="429.93" cy="154.59" r="1.9" fill="#e377c2"/>
<circle cx="420.42" cy="106.78" r="1.9" fill="#e377c2"/>
<circle cx="415.39" cy="151.09" r="1.9" fill="#e377c2"/>
<circle cx="419.23" cy="87.57" r="1.9" fill="#ff7f0e"/>
<circle cx="442.33" cy="82.77" r="1.9" fill="#8c564b"/>
<circle cx="481.36" cy="116.68" r="1.9" fill="#1f77b4"/>
<circle cx="449.54" cy="108.2" r="1.9" fill="#ff7f0e"/>
<circle cx="360.13" cy="86.65" r="1.9" fill="#d62728"/>
<circle cx="416.15" cy="70.06" r="1.9" fill="#1f77b4"/>
<circle cx="425" cy="98.56" r="1.9" fill="#2ca02c"/>
<circle cx="354.65" cy="158.06" r="1.9" fill="#1f77b4"/>
<circle cx="483.53" cy="123.07" r="1.9" fill="#1f77b4"/>
<circle cx="330.89" cy="89.39" r="1.9" fill="#d62728"/>
<circle cx="371.88" cy="70.42" r="1.9" fill="#ff7f0e"/>
<circle cx="491.46" cy="67.87" r="1.9" fill="#1f77b4"/>
<circle cx="363.07" cy="40.13" r="1.9" fill="#1f77b4"/>
<circle cx="414.8" cy="149.32" r="1.9" fill="#d62728"/>
<circle cx="435.23" cy="142.45" r="1.9" fill="#e377c2"/>
<circle cx="378.89" cy="112.79" r="1.9" fill="#9467bd"/>
<circle cx="364.39" cy="114.56" r="1.9" fill="#9467bd"/>
<circle cx="329.55" cy="144.61" r="1.9" fill="#7f7f7f"/>
<circle cx="389.9" cy="80.77" r="1.9" fill="#ff7f0e"/>
<circle cx="383.21" cy="110.07" r="1.9" fill="#9467bd"/>
<circle cx="459.31" cy="131.56" r="1.9" fill="#1f77b4"/>
<circle cx="366.22" cy="90.69" r="1.9" fill="#e377c2"/>
<circle cx="441.76" cy="118.94" r="1.9" fill="#e377c2"/>
<circle cx="365.61" cy="70.23" r="1.9" fill="#ff7f0e"/>
<circle cx="379.12" cy="74.15" r="1.9" fill="#ff7f0e"/>
<circle cx="395.15" cy="122.12" r="1.9" fill="#9467bd"/>
<circle cx="414.42" cy="147.42" r="1.9" fill="#d62728"/>
<circle cx="478.82" cy="68.24" r="1.9" fill="#1f77b4"/>
<circle cx="450.71" cy="110.05" r="1.9" fill="#ff7f0e"/>
<circle cx="415.94" cy="87.63" r="1.9" fill="#ff7f0e"/>
<circle cx="390.8" cy="105.68" r="1.9" fill="#9467bd"/>
<circle cx="389.35" cy="80.61" r="1.9" fill="#ff7f0e"/>
<circle cx="347.97" cy="153.02" r="1.9" fill="#1f77b4"/>
<circle cx="403.52" cy="60.21" r="1.9" fill="#ff7f0e"/>
<circle cx="428.9" cy="76.39" r="1.9" fill="#8c564b"/>
<circle cx="353.51" cy="122.56" r="1.9" fill="#9467bd"/>
<circle cx="436.15" cy="133.77" r="1.9" fill="#e377c2"/>
<circle cx="398.68" cy="71.23" r="1.9" fill="#ff7f0e"/>
<circle cx="396.72" cy="89.39" r="1.9" fill="#ff7f0e"/>
<circle cx="470.69" cy="119.74" r="1.9" fill="#1f77b4"/>
<circle cx="381.36" cy="140.48" r="1.9" fill="#9467bd"/>
<circle cx="379.64" cy="86.43" r="1.9" fill="#e377c2"/>
<circle cx="405.97" cy="152.32" r="1.9" fill="#d62728"/>
<circle cx="450.7" cy="92.12" r="1.9" fill="#8c564b"/>
<circle cx="351.39" cy="152.82" r="1.9" fill="#7f7f7f"/>
<circle cx="494.4" cy="122.22" r="1.9" fill="#1f77b4"/>
<circle cx="356.65" cy="141.22" r="1.9" fill="#7f7f7f"/>
<circle cx="437.74" cy="61.37" r="1.9" fill="#1f77b4"/>
<circle cx="431.31" cy="123.93" r="1.9" fill="#2ca02c"/>
<circle cx="353.66" cy="156.34" r="1.9" fill="#7f7f7f"/>
<circle cx="365.86" cy="75.01" r="1.9" fill="#ff7f0e"/>
<circle cx="445.25" cy="81.78" r="1.9" fill="#8c564b"/>
<circle cx="458.36" cy="102.04" r="1.9" fill="#1f77b4"/>
<circle cx="461.22" cy="105.57" r="1.9" fill="#ff7f0e"/>
<circle cx="392.88" cy="74.3" r="1.9" fill="#8c564b"/>
<circle cx="449.8" cy="151.27" r="1.9" fill="#e377c2"/>
<circle cx="448.57" cy="97.11" r="1.9" fill="#ff7f0e"/>
<circle cx="409.96" cy="134.37" r="1.9" fill="#d62728"/>
<circle cx="360.61" cy="89.86" r="1.9" fill="#ff7f0e"/>
<circle cx="412.47" cy="121.11" r="1.9" fill="#ff7f0e"/>
<circle cx="342.26" cy="150.81" r="1.9" fill="#7f7f7f"/>
<circle cx="386.66" cy="78.09" r="1.9" fill="#e377c2"/>
<circle cx="463.28" cy="56.5" r="1.9" fill="#1f77b4"/>
<circle cx="338.07" cy="147.78" r="1.9" fill="#7f7f7f"/>
<circle cx="471.52" cy="74.25" r="1.9" fill="#1f77b4"/>
<circle cx="430.31" cy="105.69" r="1.9" fill="#2ca02c"/>
<circle cx="390.64" cy="78.14" r="1.9" fill="#8c564b"/>
<circle cx="393.18" cy="61.22" r="1.9" fill="#ff7f0e"/>
<circle cx="455.68" cy="64.19" r="1.9" fill="#e377c2"/>
<circle cx="432.14" cy="155.44" r="1.9" fill="#d62728"/>
<circle cx="424.45" cy="129.52" r="1.9" fill="#e377c2"/>
<circle cx="495.04" cy="112.85" r="1.9" fill="#1f77b4"/>
<circle cx="404.84" cy="72.43" r="1.9" fill="#8c564b"/>
<circle cx="411.72" cy="150.82" r="1.9" fill="#d62728"/>
<circle cx="465.38" cy="144.45" r="1.9" fill="#1f77b4"/>
<circle cx="391.68" cy="79.46" r="1.9" fill="#ff7f0e"/>
<circle cx="444.33" cy="114.46" r="1.9" fill="#e377c2"/>
<circle cx="443.76" cy="91.39" r="1.9" fill="#8c564b"/>
<circle cx="448.07" cy="69.87" r="1.9" fill="#1f77b4"/>
<circle cx="336.78" cy="85.1" r="1.9" fill="#e377c2"/>
<circle cx="475.67" cy="139.45" r="1.9" fill="#1f77b4"/>
<circle cx="394.71" cy="131.03" r="1.9" fill="#9467bd"/>
<circle cx="332.19" cy="142.2" r="1.9" fill="#7f7f7f"/>
<circle cx="382.27" cy="85.1" r="1.9" fill="#ff7f0e"/>
<circle cx="383.32" cy="114.87" r="1.9" fill="#d62728"/>
<circle cx="404.77" cy="99.11" r="1.9" fill="#ff7f0e"/>
<circle cx="498.82" cy="127.03" r="1.9" fill="#1f77b4"/>
<circle cx="444.61" cy="91.63" r="1.9" fill="#ff7f0e"/>
<circle cx="371.95" cy="93.43" r="1.9" fill="#d62728"/>
<circle cx="422.53" cy="153.73" r="1.9" fill="#d62728"/>
<circle cx="354.12" cy="144.8" r="1.9" fill="#7f7f7f"/>
<circle cx="324.44" cy="56.91" r="1.9" fill="#e377c2"/>
<circle cx="442.86" cy="76.39" r="1.9" fill="#1f77b4"/>
<circle cx="478.15" cy="134.27" r="1.9" fill="#ff7f0e"/>
<circle cx="415.59" cy="140.33" r="1.9" fill="#d62728"/>
<circle cx="407.91" cy="152.52" r="1.9" fill="#d62728"/>
<circle cx="392.08" cy="70.53" r="1.9" fill="#ff7f0e"/>
<circle cx="471.48" cy="68.38" r="1.9" fill="#1f77b4"/>
<circle cx="444.48" cy="144.4" r="1.9" fill="#e377c2"/>
<circle cx="435.24" cy="86.18" r="1.9" fill="#8c564b"/>
<circle cx="328.84" cy="61.29" r="1.9" fill="#e377c2"/>
<circle cx="335.53" cy="101.84" r="1.9" fill="#d62728"/>
<circle cx="418.07" cy="140.42" r="1.9" fill="#d62728"/>
<circle cx="384.39" cy="97.44" r="1.9" fill="#e377c2"/>
<circle cx="356.48" cy="90.78" r="1.9" fill="#e377c2"/>
<circle cx="381.89" cy="107.9" r="1.9" fill="#9467bd"/>
<circle cx="407.47" cy="92.65" r="1.9" fill="#ff7f0e"/>
<circle cx="441.36" cy="129" r="1.9" fill="#e377c2"/>
<circle cx="345.94" cy="87.78" r="1.9" fill="#d62728"/>
<circle cx="381.29" cy="111.56" r="1.9" fill="#9467bd"/>
<circle cx="426.28" cy="68.43" r="1.9" fill="#8c564b"/>
<circle cx="440.14" cy="106.58" r="1.9" fill="#2ca02c"/>
<circle cx="416.79" cy="98.18" r="1.9" fill="#e377c2"/>
<circle cx="355.02" cy="138.24" r="1.9" fill="#7f7f7f"/>
<circle cx="340.04" cy="155.02" r="1.9" fill="#1f77b4"/>
<circle cx="434.1" cy="122.89" r="1.9" fill="#2ca02c"/>
<circle cx="510.71" cy="127.55" r="1.9" fill="#1f77b4"/>
<circle cx="404.15" cy="66.07" r="1.9" fill="#1f77b4"/>
<circle cx="471.87" cy="113.52" r="1.9" fill="#1f77b4"/>
<circle cx="334.24" cy="57.51" r="1.9" fill="#1f77b4"/>
<circle cx="345.7" cy="151.8" r="1.9" fill="#1f77b4"/>
<circle cx="445.36" cy="132.48" r="1.9" fill="#e377c2"/>
<circle cx="492.58" cy="151.54" r="1.9" fill="#1f77b4"/>
<circle cx="441.88" cy="76.08" r="1.9" fill="#ff7f0e"/>
<circle cx="409.77" cy="75.58" r="1.9" fill="#ff7f0e"/>
<circle cx="359.59" cy="98.77" r="1.9" fill="#d62728"/>
<circle cx="398.61" cy="75.82" r="1.9" fill="#1f77b4"/>
<circle cx="432.1" cy="86.62" r="1.9" fill="#2ca02c"/>
<circle cx="389.21" cy="96.15" r="1.9" fill="#e377c2"/>
<circle cx="456.11" cy="83.51" r="1.9" fill="#ff7f0e"/>
<circle cx="354.39" cy="60.09" r="1.9" fill="#e377c2"/>
<circle cx="395.06" cy="94.87" r="1.9" fill="#2ca02c"/>
<circle cx="354.86" cy="119.22" r="1.9" fill="#9467bd"/>
<circle cx="339.84" cy="95.19" r="1.9" fill="#d62728"/>
<circle cx="416.7" cy="133.88" r="1.9" fill="#d62728"/>
<circle cx="348.28" cy="153.31" r="1.9" fill="#1f77b4"/>
<circle cx="320.47" cy="87.7" r="1.9" fill="#d62728"/>
<circle cx="370.44" cy="96.65" r="1.9" fill="#d62728"/>
<circle cx="412.65" cy="66.51" r="1.9" fill="#ff7f0e"/>
<circle cx="485.31" cy="128.54" r="1.9" fill="#1f77b4"/>
<circle cx="446.94" cy="136.72" r="1.9" fill="#1f77b4"/>
<circle cx="410.9" cy="142.52" r="1.9" fill="#d62728"/>
<circle cx="406.61" cy="72.66" r="1.9" fill="#8c564b"/>
<circle cx="395.85" cy="124.77" r="1.9" fill="#9467bd"/>
<circle cx="359.65" cy="99.79" r="1.9" fill="#d62728"/>
<circle cx="364.47" cy="83.58" r="1.9" fill="#e377c2"/>
<circle cx="407.93" cy="137.71" r="1.9" fill="#d62728"/>
<circle cx="496.1" cy="107.98" r="1.9" fill="#1f77b4"/>
<circle cx="458.97" cy="87.42" r="1.9" fill="#ff7f0e"/>
<circle cx="440.73" cy="97.29" r="1.9" fill="#2ca02c"/>
<circle cx="412.98" cy="141.83" r="1.9" fill="#d62728"/>
<circle cx="379.8" cy="38.71" r="1.9" fill="#1f77b4"/>
<circle cx="391.21" cy="79.8" r="1.9" fill="#8c564b"/>
<circle cx="345.73" cy="154.31" r="1.9" fill="#7f7f7f"/>
<circle cx="459.53" cy="120.57" r="1.9" fill="#1f77b4"/>
<circle cx="351.52" cy="148.54" r="1.9" fill="#7f7f7f"/>
<circle cx="486.13" cy="119" r="1.9" fill="#1f77b4"/>
<circle cx="340.22" cy="95.38" r="1.9" fill="#d62728"/>
<circle cx="376.55" cy="36.7" r="1.9" fill="#1f77b4"/>
<circle cx="403.6" cy="73.68" r="1.9" fill="#ff7f0e"/>
<circle cx="397.5" cy="73.28" r="1.9" fill="#ff7f0e"/>
<circle cx="440.03" cy="101.38" r="1.9" fill="#2ca02c"/>
<circle cx="459.7" cy="104.93" r="1.9" fill="#ff7f0e"/>
<circle cx="373.53" cy="76.42" r="1.9" fill="#ff7f0e"/>
<circle cx="428.62" cy="143.24" r="1.9" fill="#e377c2"/>
<circle cx="498.03" cy="88.9" r="1.9" fill="#1f77b4"/>
<circle cx="495.8" cy="138.49" r="1.9" fill="#1f77b4"/>
<circle cx="488.05" cy="75.12" r="1.9" fill="#ff7f0e"/>
<circle cx="428.3" cy="79.37" r="1.9" fill="#e377c2"/>
<circle cx="357.63" cy="153.77" r="1.9" fill="#7f7f7f"/>
<circle cx="420.49" cy="158.18" r="1.9" fill="#d62728"/>
<circle cx="423.86" cy="73.56" r="1.9" fill="#1f77b4"/>
<circle cx="400.79" cy="77.9" r="1.9" fill="#ff7f0e"/>
<circle cx="402.38" cy="77.89" r="1.9" fill="#ff7f0e"/>
<circle cx="439.6" cy="142.71" r="1.9" fill="#e377c2"/>
<circle cx="491.69" cy="119.44" r="1.9" fill="#1f77b4"/>
<circle cx="369.53" cy="83.31" r="1.9" fill="#ff7f0e"/>
<circle cx="444.88" cy="56.69" r="1.9" fill="#1f77b4"/>
<circle cx="429.92" cy="136.2" r="1.9" fill="#e377c2"/>
<circle cx="432.93" cy="95.61" r="1.9" fill="#ff7f0e"/>
<circle cx="373.69" cy="53.53" r="1.9" fill="#1f77b4"/>
<circle cx="357.47" cy="87.12" r="1.9" fill="#e377c2"/>
<circle cx="425.51" cy="143.79" r="1.9" fill="#d62728"/>
<circle cx="389.2" cy="78.79" r="1.9" fill="#ff7f0e"/>
<circle cx="357.51" cy="117.09" r="1.9" fill="#9467bd"/>
<circle cx="370.98" cy="100.19" r="1.9" fill="#d62728"/>
<circle cx="455.72" cy="115.41" r="1.9" fill="#e377c2"/>
<circle cx="434.52" cy="145.98" r="1.9" fill="#e377c2"/>
<circle cx="410.69" cy="134.32" r="1.9" fill="#d62728"/>
<circle cx="431.67" cy="97.3" r="1.9" fill="#ff7f0e"/>
<circle cx="428.66" cy="121.98" r="1.9" fill="#2ca02c"/>
<circle cx="437.34" cy="126.94" r="1.9" fill="#2ca02c"/>
<circle cx="367.1" cy="97.2" r="1.9" fill="#d62728"/>
<circle cx="433.98" cy="75.65" r="1.9" fill="#ff7f0e"/>
<circle cx="392.96" cy="86.89" r="1.9" fill="#e377c2"/>
<circle cx="419.15" cy="153.47" r="1.9" fill="#d62728"/>
<circle cx="380.48" cy="129.25" r="1.9" fill="#9467bd"/>
<circle cx="441.64" cy="145.53" r="1.9" fill="#e377c2"/>
<circle cx="440.51" cy="60.08" r="1.9" fill="#1f77b4"/>
<circle cx="388.32" cy="77.37" r="1.9" fill="#ff7f0e"/>
<circle cx="375.68" cy="79.62" r="1.9" fill="#ff7f0e"/>
<circle cx="340.57" cy="157.9" r="1.9" fill="#1f77b4"/>
<circle cx="457.41" cy="133.4" r="1.9" fill="#e377c2"/>
<circle cx="376.86" cy="110.96" r="1.9" fill="#9467bd"/>
<circle cx="342.77" cy="161.25" r="1.9" fill="#1f77b4"/>
<circle cx="450.7" cy="82.24" r="1.9" fill="#ff7f0e"/>
<circle cx="366.51" cy="94.5" r="1.9" fill="#ff7f0e"/>
<circle cx="442.84" cy="114.28" r="1.9" fill="#8c564b"/>
<circle cx="493.44" cy="126.15" r="1.9" fill="#1f77b4"/>
<circle cx="389.55" cy="134.94" r="1.9" fill="#9467bd"/>
<circle cx="444.43" cy="65.03" r="1.9" fill="#ff7f0e"/>
<circle cx="469.01" cy="130.61" r="1.9" fill="#1f77b4"/>
<circle cx="428.64" cy="70.29" r="1.9" fill="#2ca02c"/>
<circle cx="435.9" cy="138.73" r="1.9" fill="#d62728"/>
<circle cx="430.36" cy="59.5" r="1.9" fill="#1f77b4"/>
<circle cx="329.46" cy="78.48" r="1.9" fill="#d62728"/>
<circle cx="352.83" cy="91.41" r="1.9" fill="#d62728"/>
<circle cx="405.08" cy="115.09" r="1.9" fill="#9467bd"/>
<circle cx="345.04" cy="148.81" r="1.9" fill="#7f7f7f"/>
<circle cx="407.29" cy="98.75" r="1.9" fill="#ff7f0e"/>
<circle cx="406.72" cy="132.64" r="1.9" fill="#d62728"/>
<circle cx="344.64" cy="101.39" r="1.9" fill="#d62728"/>
<circle cx="334.69" cy="83.44" r="1.9" fill="#d62728"/>
<circle cx="394.23" cy="127.2" r="1.9" fill="#9467bd"/>
<circle cx="399.57" cy="121.15" r="1.9" fill="#9467bd"/>
<circle cx="422.42" cy="105.39" r="1.9" fill="#2ca02c"/>
<circle cx="437.76" cy="130.31" r="1.9" fill="#e377c2"/>
<circle cx="356.25" cy="150.16" r="1.9" fill="#7f7f7f"/>
<circle cx="424.52" cy="71.89" r="1.9" fill="#e377c2"/>
<circle cx="429.4" cy="103.02" r="1.9" fill="#ff7f0e"/>
<circle cx="394.79" cy="77.25" r="1.9" fill="#ff7f0e"/>
<circle cx="419.14" cy="137.9" r="1.9" fill="#d62728"/>
<circle cx="460.06" cy="129.89" r="1.9" fill="#1f77b4"/>
<circle cx="375.29" cy="112.37" r="1.9" fill="#9467bd"/>
<circle cx="367.5" cy="98.74" r="1.9" fill="#d62728"/>
<circle cx="342.53" cy="92.16" r="1.9" fill="#d62728"/>
<circle cx="423.83" cy="67.3" r="1.9" fill="#8c564b"/>
<circle cx="396.65" cy="92.49" r="1.9" fill="#d62728"/>
<circle cx="340.31" cy="63.41" r="1.9" fill="#1f77b4"/>
<circle cx="475" cy="73.92" r="1.9" fill="#1f77b4"/>
<circle cx="437.51" cy="106.24" r="1.9" fill="#1f77b4"/>
<circle cx="416.47" cy="149.75" r="1.9" fill="#d62728"/>
<circle cx="463.31" cy="157.03" r="1.9" fill="#1f77b4"/>
<circle cx="427.97" cy="119.88" r="1.9" fill="#8c564b"/>
<circle cx="323.81" cy="151.54" r="1.9" fill="#e377c2"/>
<circle cx="384.49" cy="91.12" r="1.9" fill="#d62728"/>
<circle cx="414.46" cy="86.83" r="1.9" fill="#8c564b"/>
<circle cx="450.11" cy="129.67" r="1.9" fill="#ff7f0e"/>
<circle cx="451.74" cy="127.09" r="1.9" fill="#1f77b4"/>
<circle cx="388.52" cy="81.18" r="1.9" fill="#ff7f0e"/>
<circle cx="381.87" cy="58.16" r="1.9" fill="#e377c2"/>
<circle cx="391.8" cy="75.23" r="1.9" fill="#ff7f0e"/>
<circle cx="375.91" cy="98.85" r="1.9" fill="#e377c2"/>
<circle cx="451.97" cy="141.09" r="1.9" fill="#e377c2"/>
<circle cx="414.79" cy="84.08" r="1.9" fill="#ff7f0e"/>
<circle cx="438.96" cy="59.37" r="1.9" fill="#1f77b4"/>
<circle cx="386.4" cy="86.23" r="1.9" fill="#d62728"/>
<circle cx="374.05" cy="66.67" r="1.9" fill="#1f77b4"/>
<circle cx="333.09" cy="93.6" r="1.9" fill="#d62728"/>
<circle cx="459.18" cy="99.59" r="1.9" fill="#1f77b4"/>
<circle cx="358.27" cy="118.82" r="1.9" fill="#9467bd"/>
<circle cx="444" cy="82.21" r="1.9" fill="#8c564b"/>
<circle cx="390.03" cy="76.62" r="1.9" fill="#ff7f0e"/>
<circle cx="403.59" cy="85.16" r="1.9" fill="#e377c2"/>
<circle cx="374.38" cy="89.02" r="1.9" fill="#e377c2"/>
<circle cx="382.84" cy="137.87" r="1.9" fill="#9467bd"/>
<circle cx="368.44" cy="112.49" r="1.9" fill="#9467bd"/>
<circle cx="490.69" cy="87.01" r="1.9" fill="#1f77b4"/>
<circle cx="455.94" cy="88.77" r="1.9" fill="#ff7f0e"/>
<circle cx="408.46" cy="84.46" r="1.9" fill="#2ca02c"/>
<circle cx="457.31" cy="81.71" r="1.9" fill="#e377c2"/>
<circle cx="356.22" cy="88.79" r="1.9" fill="#d62728"/>
<circle cx="363.32" cy="116.57" r="1.9" fill="#9467bd"/>
<circle cx="368.98" cy="85.09" r="1.9" fill="#d62728"/>
<circle cx="490.21" cy="137.69" r="1.9" fill="#1f77b4"/>
<circle cx="401.68" cy="74.89" r="1.9" fill="#8c564b"/>
<circle cx="429.08" cy="158.41" r="1.9" fill="#d62728"/>
<circle cx="441.19" cy="59.54" r="1.9" fill="#1f77b4"/>
<circle cx="429.15" cy="103.17" r="1.9" fill="#ff7f0e"/>
<circle cx="447.21" cy="116.46" r="1.9" fill="#ff7f0e"/>
<circle cx="422.95" cy="130.23" r="1.9" fill="#d62728"/>
<circle cx="407.78" cy="153.3" r="1.9" fill="#d62728"/>
<circle cx="395.21" cy="69.29" r="1.9" fill="#e377c2"/>
<circle cx="464.15" cy="104.55" r="1.9" fill="#1f77b4"/>
<circle cx="377.39" cy="94.04" r="1.9" fill="#d62728"/>
<circle cx="502.26" cy="142.95" r="1.9" fill="#ff7f0e"/>
<circle cx="458.34" cy="89.73" r="1.9" fill="#1f77b4"/>
<circle cx="382.6" cy="56.55" r="1.9" fill="#1f77b4"/>
<circle cx="438.96" cy="78.7" r="1.9" fill="#ff7f0e"/>
<circle cx="436.14" cy="74.69" r="1.9" fill="#ff7f0e"/>
<circle cx="379.58" cy="80.55" r="1.9" fill="#ff7f0e"/>
<circle cx="429.05" cy="120.09" r="1.9" fill="#2ca02c"/>
<circle cx="493.36" cy="144.62" r="1.9" fill="#ff7f0e"/>
<circle cx="450.12" cy="79.63" r="1.9" fill="#8c564b"/>
<circle cx="400.12" cy="101.4" r="1.9" fill="#9467bd"/>
<circle cx="354.85" cy="84.71" r="1.9" fill="#d62728"/>
<circle cx="459.02" cy="112.03" r="1.9" fill="#1f77b4"/>
<circle cx="466.16" cy="69.16" r="1.9" fill="#ff7f0e"/>
<circle cx="438.14" cy="134.07" r="1.9" fill="#d62728"/>
<circle cx="411.61" cy="69.7" r="1.9" fill="#e377c2"/>
<circle cx="397.9" cy="123.78" r="1.9" fill="#ff7f0e"/>
<circle cx="449.58" cy="100.13" r="1.9" fill="#2ca02c"/>
<circle cx="444.15" cy="116.88" r="1.9" fill="#2ca02c"/>
<circle cx="444.35" cy="140.02" r="1.9" fill="#e377c2"/>
<circle cx="422.41" cy="72.19" r="1.9" fill="#8c564b"/>
<circle cx="466.99" cy="86.75" r="1.9" fill="#1f77b4"/>
<circle cx="380.14" cy="61.72" r="1.9" fill="#1f77b4"/>
<circle cx="376.33" cy="107.25" r="1.9" fill="#9467bd"/>
<circle cx="441.12" cy="135.88" r="1.9" fill="#e377c2"/>
<circle cx="340.03" cy="147.26" r="1.9" fill="#7f7f7f"/>
<circle cx="413.61" cy="151.94" r="1.9" fill="#d62728"/>
<circle cx="342.56" cy="64.42" r="1.9" fill="#1f77b4"/>
<circle cx="407.01" cy="65.66" r="1.9" fill="#1f77b4"/>
<circle cx="421.22" cy="137.35" r="1.9" fill="#d62728"/>
<circle cx="399.07" cy="104.86" r="1.9" fill="#9467bd"/>
<circle cx="423.12" cy="139.1" r="1.9" fill="#d62728"/>
<circle cx="332.98" cy="140.58" r="1.9" fill="#7f7f7f"/>
<circle cx="446.73" cy="116.64" r="1.9" fill="#ff7f0e"/>
<circle cx="414.91" cy="82.4" r="1.9" fill="#e377c2"/>
<circle cx="446.26" cy="147.99" r="1.9" fill="#e377c2"/>
<circle cx="460.77" cy="108.91" r="1.9" fill="#ff7f0e"/>
<circle cx="440.56" cy="152.26" r="1.9" fill="#e377c2"/>
<circle cx="478.72" cy="123.27" r="1.9" fill="#1f77b4"/>
<circle cx="338.42" cy="148.14" r="1.9" fill="#7f7f7f"/>
<circle cx="352.18" cy="75.46" r="1.9" fill="#e377c2"/>
<circle cx="415.72" cy="67.79" r="1.9" fill="#8c564b"/>
<circle cx="450.18" cy="146.69" r="1.9" fill="#1f77b4"/>
<circle cx="444.93" cy="129.57" r="1.9" fill="#e377c2"/>
<circle cx="399.76" cy="122.52" r="1.9" fill="#9467bd"/>
<circle cx="410.22" cy="124.93" r="1.9" fill="#d62728"/>
<circle cx="364.64" cy="104.62" r="1.9" fill="#d62728"/>
<circle cx="457" cy="119.33" r="1.9" fill="#e377c2"/>
<circle cx="357.52" cy="107.66" r="1.9" fill="#d62728"/>
<circle cx="339.36" cy="149.76" r="1.9" fill="#7f7f7f"/>
<circle cx="317.95" cy="153.12" r="1.9" fill="#e377c2"/>
<circle cx="352.89" cy="140.05" r="1.9" fill="#7f7f7f"/>
<circle cx="480.07" cy="129.71" r="1.9" fill="#1f77b4"/>
<circle cx="347.45" cy="68.84" r="1.9" fill="#1f77b4"/>
<circle cx="330.97" cy="155.26" r="1.9" fill="#1f77b4"/>
<circle cx="445.41" cy="105.7" r="1.9" fill="#ff7f0e"/>
<circle cx="456.83" cy="132.54" r="1.9" fill="#e377c2"/>
<circle cx="454.42" cy="92.28" r="1.9" fill="#2ca02c"/>
<circle cx="450.21" cy="123.5" r="1.9" fill="#e377c2"/>
<circle cx="408.99" cy="51.72" r="1.9" fill="#1f77b4"/>
<circle cx="428.87" cy="71.69" r="1.9" fill="#2ca02c"/>
<circle cx="367.97" cy="95.21" r="1.9" fill="#d62728"/>
<circle cx="358.81" cy="139.48" r="1.9" fill="#7f7f7f"/>
<circle cx="495.23" cy="143.89" r="1.9" fill="#1f77b4"/>
<circle cx="436.6" cy="130.69" r="1.9" fill="#e377c2"/>
<circle cx="452.22" cy="45.95" r="1.9" fill="#1f77b4"/>
<circle cx="447.55" cy="91.88" r="1.9" fill="#ff7f0e"/>
<circle cx="385.02" cy="57.5" r="1.9" fill="#1f77b4"/>
<circle cx="432.89" cy="103.11" r="1.9" fill="#ff7f0e"/>
<circle cx="432.89" cy="146.15" r="1.9" fill="#d62728"/>
<circle cx="376.46" cy="111.72" r="1.9" fill="#9467bd"/>
<circle cx="411.03" cy="83.32" r="1.9" fill="#8c564b"/>
<circle cx="454.02" cy="93.62" r="1.9" fill="#1f77b4"/>
<circle cx="321.47" cy="138.08" r="1.9" fill="#e377c2"/>
<circle cx="331.81" cy="63.08" r="1.9" fill="#1f77b4"/>
<circle cx="443.61" cy="138.71" r="1.9" fill="#e377c2"/>
<circle cx="344.97" cy="89.57" r="1.9" fill="#d62728"/>
<circle cx="359.77" cy="100.31" r="1.9" fill="#d62728"/>
<circle cx="435.28" cy="102.94" r="1.9" fill="#2ca02c"/>
<circle cx="392.47" cy="68.99" r="1.9" fill="#8c564b"/>
<circle cx="382.96" cy="88.78" r="1.9" fill="#e377c2"/>
<circle cx="367.45" cy="100.45" r="1.9" fill="#d62728"/>
<circle cx="429.23" cy="71.67" r="1.9" fill="#1f77b4"/>
<circle cx="350.56" cy="155.37" r="1.9" fill="#ff7f0e"/>
<circle cx="465.37" cy="83.78" r="1.9" fill="#ff7f0e"/>
<circle cx="424.51" cy="95.93" r="1.9" fill="#8c564b"/>
<circle cx="499.68" cy="112.06" r="1.9" fill="#1f77b4"/>
<circle cx="436.25" cy="143.88" r="1.9" fill="#d62728"/>
<circle cx="323.44" cy="76.15" r="1.9" fill="#e377c2"/>
<circle cx="479.88" cy="128.2" r="1.9" fill="#1f77b4"/>
<circle cx="325.92" cy="66.25" r="1.9" fill="#e377c2"/>
<circle cx="383.58" cy="34.32" r="1.9" fill="#1f77b4"/>
<circle cx="385.47" cy="68.79" r="1.9" fill="#8c564b"/>
<circle cx="425.37" cy="77.22" r="1.9" fill="#1f77b4"/>
<circle cx="451.72" cy="114.96" r="1.9" fill="#ff7f0e"/>
<circle cx="423.92" cy="83.94" r="1.9" fill="#e377c2"/>
<circle cx="452.12" cy="74.85" r="1.9" fill="#8c564b"/>
<circle cx="392.9" cy="129.05" r="1.9" fill="#9467bd"/>
<circle cx="396.31" cy="81.08" r="1.9" fill="#e377c2"/>
<circle cx="449.2" cy="133.01" r="1.9" fill="#ff7f0e"/>
<circle cx="382.79" cy="134.96" r="1.9" fill="#9467bd"/>
<circle cx="343" cy="90.74" r="1.9" fill="#d62728"/>
<circle cx="448.05" cy="73.24" r="1.9" fill="#ff7f0e"/>
<circle cx="416.96" cy="91.11" r="1.9" fill="#8c564b"/>
<circle cx="346.25" cy="94.02" r="1.9" fill="#d62728"/>
<circle cx="490.14" cy="154.21" r="1.9" fill="#1f77b4"/>
<circle cx="325.44" cy="94.44" r="1.9" fill="#d62728"/>
<circle cx="376.99" cy="116.04" r="1.9" fill="#9467bd"/>
<circle cx="320.62" cy="89.74" r="1.9" fill="#e377c2"/>
<circle cx="429.21" cy="109.79" r="1.9" fill="#2ca02c"/>
<circle cx="451.93" cy="101.4" r="1.9" fill="#ff7f0e"/>
<circle cx="505.86" cy="127.76" r="1.9" fill="#1f77b4"/>
<circle cx="444.69" cy="109.29" r="1.9" fill="#ff7f0e"/>
<circle cx="417.39" cy="138.73" r="1.9" fill="#d62728"/>
<circle cx="451.65" cy="36.55" r="1.9" fill="#1f77b4"/>
<circle cx="390.57" cy="82.18" r="1.9" fill="#8c564b"/>
<circle cx="425.45" cy="78.86" r="1.9" fill="#e377c2"/>
<circle cx="359.16" cy="155.72" r="1.9" fill="#ff7f0e"/>
<circle cx="448.04" cy="42.24" r="1.9" fill="#1f77b4"/>
<circle cx="438.6" cy="155.98" r="1.9" fill="#e377c2"/>
<circle cx="386.3" cy="109.74" r="1.9" fill="#9467bd"/>
<circle cx="422.05" cy="149.01" r="1.9" fill="#d62728"/>
<circle cx="346.56" cy="91.37" r="1.9" fill="#d62728"/>
<circle cx="432.08" cy="95.49" r="1.9" fill="#ff7f0e"/>
<circle cx="432.29" cy="106.8" r="1.9" fill="#2ca02c"/>
<circle cx="394.13" cy="108.55" r="1.9" fill="#9467bd"/>
<circle cx="415.35" cy="133.4" r="1.9" fill="#ff7f0e"/>
<circle cx="431.1" cy="129.12" r="1.9" fill="#ff7f0e"/>
<circle cx="453.46" cy="96.78" r="1.9" fill="#ff7f0e"/>
<circle cx="442.69" cy="77.31" r="1.9" fill="#ff7f0e"/>
<circle cx="493.26" cy="122.62" r="1.9" fill="#1f77b4"/>
<circle cx="408.84" cy="61.76" r="1.9" fill="#e377c2"/>
<circle cx="450.41" cy="99.83" r="1.9" fill="#8c564b"/>
<circle cx="422.46" cy="75.43" r="1.9" fill="#8c564b"/>
<circle cx="408.08" cy="69.91" r="1.9" fill="#2ca02c"/>
<circle cx="488.85" cy="57.38" r="1.9" fill="#1f77b4"/>
<circle cx="453.9" cy="74.52" r="1.9" fill="#1f77b4"/>
<circle cx="421.52" cy="150.87" r="1.9" fill="#d62728"/>
<circle cx="392.46" cy="79.34" r="1.9" fill="#ff7f0e"/>
<circle cx="418.09" cy="95.78" r="1.9" fill="#e377c2"/>
<circle cx="445.24" cy="79.59" r="1.9" fill="#ff7f0e"/>
<circle cx="378.6" cy="70.65" r="1.9" fill="#e377c2"/>
<circle cx="422.1" cy="65.48" r="1.9" fill="#1f77b4"/>
<circle cx="458.67" cy="137.96" r="1.9" fill="#e377c2"/>
<circle cx="359.04" cy="110.69" r="1.9" fill="#9467bd"/>
<circle cx="354.63" cy="144.55" r="1.9" fill="#7f7f7f"/>
<circle cx="322.14" cy="82.29" r="1.9" fill="#e377c2"/>
<circle cx="428.11" cy="121.81" r="1.9" fill="#2ca02c"/>
<circle cx="484.47" cy="125.91" r="1.9" fill="#1f77b4"/>
<circle cx="397" cy="75.93" r="1.9" fill="#e377c2"/>
<circle cx="442.93" cy="109.12" r="1.9" fill="#1f77b4"/>
<circle cx="357.57" cy="119.3" r="1.9" fill="#9467bd"/>
<circle cx="470.61" cy="125.2" r="1.9" fill="#1f77b4"/>
<circle cx="410.96" cy="83.07" r="1.9" fill="#e377c2"/>
<circle cx="397.8" cy="37.82" r="1.9" fill="#1f77b4"/>
<circle cx="410.33" cy="85.27" r="1.9" fill="#ff7f0e"/>
<circle cx="383.6" cy="84.89" r="1.9" fill="#d62728"/>
<circle cx="341.7" cy="67.95" r="1.9" fill="#e377c2"/>
<circle cx="365.74" cy="90.18" r="1.9" fill="#e377c2"/>
<circle cx="333.82" cy="153.48" r="1.9" fill="#1f77b4"/>
<circle cx="347.04" cy="143.6" r="1.9" fill="#1f77b4"/>
<circle cx="444.38" cy="95.4" r="1.9" fill="#8c564b"/>
<circle cx="417.82" cy="78.44" r="1.9" fill="#ff7f0e"/>
<circle cx="368.11" cy="95.18" r="1.9" fill="#d62728"/>
<circle cx="421.71" cy="153.33" r="1.9" fill="#d62728"/>
<circle cx="487.4" cy="141.01" r="1.9" fill="#ff7f0e"/>
<circle cx="399.74" cy="79.87" r="1.9" fill="#ff7f0e"/>
<circle cx="385.77" cy="52.04" r="1.9" fill="#1f77b4"/>
<circle cx="438.09" cy="134.19" r="1.9" fill="#e377c2"/>
<circle cx="404.05" cy="77.28" r="1.9" fill="#8c564b"/>
<circle cx="445.84" cy="75.9" r="1.9" fill="#ff7f0e"/>
<circle cx="383.38" cy="110.12" r="1.9" fill="#d62728"/>
<circle cx="429.3" cy="132.75" r="1.9" fill="#e377c2"/>
<circle cx="445.4" cy="108.37" r="1.9" fill="#ff7f0e"/>
<circle cx="433.27" cy="137.98" r="1.9" fill="#e377c2"/>
<circle cx="339.04" cy="156.2" r="1.9" fill="#1f77b4"/>
<circle cx="386.36" cy="106.84" r="1.9" fill="#9467bd"/>
<circle cx="363.66" cy="145.2" r="1.9" fill="#e377c2"/>
<circle cx="424.51" cy="73.93" r="1.9" fill="#2ca02c"/>
<circle cx="471.04" cy="132.9" r="1.9" fill="#1f77b4"/>
<circle cx="395.69" cy="109.21" r="1.9" fill="#9467bd"/>
<circle cx="372.99" cy="114.61" r="1.9" fill="#9467bd"/>
<circle cx="336.32" cy="105.67" r="1.9" fill="#d62728"/>
<circle cx="381.5" cy="78.63" r="1.9" fill="#ff7f0e"/>
<circle cx="478.02" cy="130" r="1.9" fill="#1f77b4"/>
<circle cx="418.71" cy="73.27" r="1.9" fill="#2ca02c"/>
<circle cx="504.01" cy="120.7" r="1.9" fill="#1f77b4"/>
<circle cx="399.17" cy="85.2" r="1.9" fill="#8c564b"/>
<circle cx="382.65" cy="41.63" r="1.9" fill="#1f77b4"/>
<circle cx="417.51" cy="140.98" r="1.9" fill="#d62728"/>
<circle cx="400.97" cy="122.62" r="1.9" fill="#9467bd"/>
<circle cx="379.15" cy="77.48" r="1.9" fill="#ff7f0e"/>
<circle cx="397.6" cy="83.94" r="1.9" fill="#e377c2"/>
<circle cx="462.92" cy="104.34" r="1.9" fill="#1f77b4"/>
<circle cx="445.43" cy="100.54" r="1.9" fill="#2ca02c"/>
<circle cx="329.71" cy="99.29" r="1.9" fill="#d62728"/>
<circle cx="438" cy="103.34" r="1.9" fill="#2ca02c"/>
<circle cx="403.15" cy="89.75" r="1.9" fill="#ff7f0e"/>
<circle cx="334.9" cy="104.03" r="1.9" fill="#d62728"/>
<circle cx="479.36" cy="90.2" r="1.9" fill="#ff7f0e"/>
<circle cx="389.75" cy="55.12" r="1.9" fill="#1f77b4"/>
<circle cx="418.68" cy="149.01" r="1.9" fill="#d62728"/>
<circle cx="446.91" cy="72.76" r="1.9" fill="#ff7f0e"/>
<circle cx="364.89" cy="93.14" r="1.9" fill="#e377c2"/>
<circle cx="394.43" cy="98.92" r="1.9" fill="#d62728"/>
<circle cx="413.45" cy="63.22" r="1.9" fill="#1f77b4"/>
<circle cx="435.18" cy="33.53" r="1.9" fill="#1f77b4"/>
<circle cx="398.84" cy="131.87" r="1.9" fill="#ff7f0e"/>
<circle cx="441" cy="74.7" r="1.9" fill="#ff7f0e"/>
<circle cx="378.58" cy="89.73" r="1.9" fill="#e377c2"/>
<circle cx="460.08" cy="92.1" r="1.9" fill="#ff7f0e"/>
<circle cx="452.06" cy="142.34" r="1.9" fill="#e377c2"/>
<circle cx="427.77" cy="128.45" r="1.9" fill="#d62728"/>
<circle cx="419.7" cy="79.27" r="1.9" fill="#1f77b4"/>
<circle cx="410.72" cy="110.84" r="1.9" fill="#9467bd"/>
<circle cx="313.26" cy="76.3" r="1.9" fill="#e377c2"/>
<circle cx="440.74" cy="76.73" r="1.9" fill="#ff7f0e"/>
<circle cx="352.1" cy="146.55" r="1.9" fill="#7f7f7f"/>
<circle cx="367.79" cy="70.42" r="1.9" fill="#e377c2"/>
<circle cx="422.05" cy="146.77" r="1.9" fill="#e377c2"/>
<circle cx="449.75" cy="111.57" r="1.9" fill="#1f77b4"/>
<circle cx="405.88" cy="73.51" r="1.9" fill="#ff7f0e"/>
<circle cx="405.49" cy="72.26" r="1.9" fill="#1f77b4"/>
<circle cx="394.53" cy="71.15" r="1.9" fill="#ff7f0e"/>
<circle cx="420.33" cy="151.59" r="1.9" fill="#d62728"/>
<circle cx="416.66" cy="153.3" r="1.9" fill="#d62728"/>
<circle cx="412.62" cy="142.94" r="1.9" fill="#d62728"/>
<circle cx="374.46" cy="76.08" r="1.9" fill="#e377c2"/>
<circle cx="360.01" cy="115.55" r="1.9" fill="#9467bd"/>
<circle cx="471.58" cy="122.46" r="1.9" fill="#1f77b4"/>
<circle cx="455.9" cy="106.25" r="1.9" fill="#ff7f0e"/>
<circle cx="438.15" cy="126.9" r="1.9" fill="#2ca02c"/>
<circle cx="417.78" cy="100.56" r="1.9" fill="#ff7f0e"/>
<circle cx="345.3" cy="86.67" r="1.9" fill="#d62728"/>
<circle cx="476.99" cy="62.34" r="1.9" fill="#1f77b4"/>
<circle cx="425.52" cy="71.46" r="1.9" fill="#ff7f0e"/>
<circle cx="421.76" cy="128.55" r="1.9" fill="#d62728"/>
<circle cx="410.5" cy="109.63" r="1.9" fill="#9467bd"/>
<circle cx="383.23" cy="97.49" r="1.9" fill="#d62728"/>
<circle cx="336.82" cy="69.24" r="1.9" fill="#e377c2"/>
<circle cx="419.74" cy="56.82" r="1.9" fill="#e377c2"/>
<circle cx="456.09" cy="141.2" r="1.9" fill="#1f77b4"/>
<circle cx="346.66" cy="96.35" r="1.9" fill="#e377c2"/>
<circle cx="447.58" cy="116.12" r="1.9" fill="#1f77b4"/>
<circle cx="371.73" cy="99.73" r="1.9" fill="#d62728"/>
<circle cx="352.13" cy="144.31" r="1.9" fill="#7f7f7f"/>
<circle cx="480.12" cy="91.73" r="1.9" fill="#ff7f0e"/>
<circle cx="380.8" cy="136.02" r="1.9" fill="#9467bd"/>
<circle cx="445.06" cy="34.99" r="1.9" fill="#1f77b4"/>
<circle cx="390.54" cy="72.84" r="1.9" fill="#ff7f0e"/>
<circle cx="437.63" cy="79.36" r="1.9" fill="#ff7f0e"/>
<circle cx="348.42" cy="20.86" r="1.9" fill="#1f77b4"/>
<circle cx="402.4" cy="76.74" r="1.9" fill="#8c564b"/>
<circle cx="360.03" cy="155.1" r="1.9" fill="#ff7f0e"/>
<circle cx="445.11" cy="91.59" r="1.9" fill="#ff7f0e"/>
<circle cx="445.21" cy="69.23" r="1.9" fill="#ff7f0e"/>
<circle cx="456.25" cy="76.09" r="1.9" fill="#ff7f0e"/>
<circle cx="417.7" cy="80.89" r="1.9" fill="#8c564b"/>
<circle cx="428.2" cy="120.63" r="1.9" fill="#2ca02c"/>
<circle cx="435.11" cy="80.82" r="1.9" fill="#2ca02c"/>
<circle cx="406.97" cy="120.75" r="1.9" fill="#ff7f0e"/>
<circle cx="330.66" cy="140.66" r="1.9" fill="#7f7f7f"/>
<circle cx="395.53" cy="105.6" r="1.9" fill="#9467bd"/>
<circle cx="399.17" cy="68.27" r="1.9" fill="#1f77b4"/>
<circle cx="362.72" cy="122.23" r="1.9" fill="#9467bd"/>
<circle cx="406.34" cy="79.71" r="1.9" fill="#8c564b"/>
<circle cx="443.92" cy="93.8" r="1.9" fill="#1f77b4"/>
<circle cx="370.49" cy="66.87" r="1.9" fill="#1f77b4"/>
<circle cx="451.6" cy="84.73" r="1.9" fill="#8c564b"/>
<circle cx="419.82" cy="145.6" r="1.9" fill="#d62728"/>
<circle cx="470.24" cy="137" r="1.9" fill="#1f77b4"/>
<circle cx="386.89" cy="135.38" r="1.9" fill="#9467bd"/>
<circle cx="434.75" cy="123.64" r="1.9" fill="#8c564b"/>
<circle cx="420.2" cy="151.75" r="1.9" fill="#d62728"/>
<circle cx="346.85" cy="151.33" r="1.9" fill="#1f77b4"/>
<circle cx="458.42" cy="91.16" r="1.9" fill="#ff7f0e"/>
<circle cx="346.64" cy="69.5" r="1.9" fill="#1f77b4"/>
<circle cx="441.12" cy="90.32" r="1.9" fill="#ff7f0e"/>
<circle cx="443.48" cy="115.96" r="1.9" fill="#2ca02c"/>
<circle cx="504.3" cy="115.9" r="1.9" fill="#1f77b4"/>
<circle cx="473.62" cy="143.97" r="1.9" fill="#1f77b4"/>
<circle cx="393.08" cy="128.73" r="1.9" fill="#9467bd"/>
<circle cx="368.62" cy="41.34" r="1.9" fill="#1f77b4"/>
<circle cx="437.39" cy="71.17" r="1.9" fill="#8c564b"/>
<circle cx="467.66" cy="134.93" r="1.9" fill="#1f77b4"/>
<circle cx="397.67" cy="82.06" r="1.9" fill="#8c564b"/>
<circle cx="389.84" cy="63.17" r="1.9" fill="#e377c2"/>
<circle cx="467.35" cy="140.97" r="1.9" fill="#1f77b4"/>
<circle cx="334.42" cy="148.28" r="1.9" fill="#7f7f7f"/>
<circle cx="438.11" cy="75.22" r="1.9" fill="#ff7f0e"/>
<circle cx="321.69" cy="80.91" r="1.9" fill="#e377c2"/>
<circle cx="463.83" cy="139.65" r="1.9" fill="#ff7f0e"/>
<circle cx="382.29" cy="139.59" r="1.9" fill="#9467bd"/>
<circle cx="455.6" cy="126.99" r="1.9" fill="#1f77b4"/>
<circle cx="386.71" cy="61.73" r="1.9" fill="#e377c2"/>
<circle cx="319.56" cy="99.66" r="1.9" fill="#d62728"/>
<circle cx="337.89" cy="158.23" r="1.9" fill="#1f77b4"/>
<circle cx="416.63" cy="140.91" r="1.9" fill="#ff7f0e"/>
<circle cx="344.68" cy="88.38" r="1.9" fill="#d62728"/>
<circle cx="425.78" cy="32.74" r="1.9" fill="#1f77b4"/>
<circle cx="362.58" cy="159.49" r="1.9" fill="#ff7f0e"/>
<circle cx="486.72" cy="157.88" r="1.9" fill="#1f77b4"/>
<circle cx="398.59" cy="126.68" r="1.9" fill="#9467bd"/>
<circle cx="447.36" cy="115.25" r="1.9" fill="#ff7f0e"/>
<circle cx="455.03" cy="69.58" r="1.9" fill="#ff7f0e"/>
<circle cx="371.86" cy="148.37" r="1.9" fill="#e377c2"/>
<circle cx="346.3" cy="156.67" r="1.9" fill="#1f77b4"/>
<circle cx="448.54" cy="116.32" r="1.9" fill="#ff7f0e"/>
<circle cx="437.09" cy="109.84" r="1.9" fill="#8c564b"/>
<circle cx="460.98" cy="86.7" r="1.9" fill="#ff7f0e"/>
<circle cx="351.21" cy="143.54" r="1.9" fill="#7f7f7f"/>
<circle cx="417" cy="144.98" r="1.9" fill="#d62728"/>
<circle cx="358.19" cy="64.73" r="1.9" fill="#e377c2"/>
<circle cx="455.35" cy="101.73" r="1.9" fill="#ff7f0e"/>
<circle cx="447.08" cy="102.87" r="1.9" fill="#8c564b"/>
<circle cx="390.69" cy="53.24" r="1.9" fill="#1f77b4"/>
<circle cx="389.66" cy="131.49" r="1.9" fill="#9467bd"/>
<circle cx="350.53" cy="147.87" r="1.9" fill="#7f7f7f"/>
<circle cx="425.05" cy="151.25" r="1.9" fill="#d62728"/>
<circle cx="462.82" cy="119.41" r="1.9" fill="#1f77b4"/>
<circle cx="414.63" cy="75.15" r="1.9" fill="#2ca02c"/>
<circle cx="455.16" cy="81.9" r="1.9" fill="#ff7f0e"/>
<circle cx="334.35" cy="153.53" r="1.9" fill="#1f77b4"/>
<circle cx="412.69" cy="140.29" r="1.9" fill="#ff7f0e"/>
<circle cx="406.74" cy="141.76" r="1.9" fill="#d62728"/>
<circle cx="400.28" cy="124.44" r="1.9" fill="#9467bd"/>
<circle cx="403.93" cy="82" r="1.9" fill="#e377c2"/>
<circle cx="388.69" cy="76.45" r="1.9" fill="#ff7f0e"/>
<circle cx="381.83" cy="86.19" r="1.9" fill="#ff7f0e"/>
<circle cx="380.76" cy="92.77" r="1.9" fill="#d62728"/>
<circle cx="414.92" cy="73.64" r="1.9" fill="#2ca02c"/>
<circle cx="367.18" cy="151.54" r="1.9" fill="#e377c2"/>
<circle cx="426" cy="151.24" r="1.9" fill="#e377c2"/>
<circle cx="413.12" cy="160.67" r="1.9" fill="#d62728"/>
<circle cx="435.54" cy="72.7" r="1.9" fill="#2ca02c"/>
<circle cx="360.14" cy="142.83" r="1.9" fill="#e377c2"/>
<circle cx="423.98" cy="143.54" r="1.9" fill="#d62728"/>
<circle cx="487.97" cy="120.14" r="1.9" fill="#1f77b4"/>
<circle cx="381.08" cy="73.26" r="1.9" fill="#ff7f0e"/>
<circle cx="412.19" cy="79.47" r="1.9" fill="#ff7f0e"/>
<circle cx="429.78" cy="129.89" r="1.9" fill="#2ca02c"/>
<circle cx="511.5" cy="149.59" r="1.9" fill="#1f77b4"/>
<circle cx="402.22" cy="153.34" r="1.9" fill="#d62728"/>
<circle cx="494.99" cy="127.33" r="1.9" fill="#1f77b4"/>
<circle cx="431.36" cy="82.85" r="1.9" fill="#8c564b"/>
<circle cx="464.32" cy="117.74" r="1.9" fill="#1f77b4"/>
<circle cx="333.95" cy="138.76" r="1.9" fill="#7f7f7f"/>
<circle cx="460.79" cy="82.19" r="1.9" fill="#ff7f0e"/>
<circle cx="332.7" cy="92.75" r="1.9" fill="#d62728"/>
<circle cx="397.73" cy="93.01" r="1.9" fill="#e377c2"/>
<circle cx="435.13" cy="76.48" r="1.9" fill="#1f77b4"/>
<circle cx="435.72" cy="113.97" r="1.9" fill="#e377c2"/>
<circle cx="428.79" cy="67.42" r="1.9" fill="#8c564b"/>
<circle cx="407.23" cy="70.41" r="1.9" fill="#8c564b"/>
<circle cx="356.98" cy="142.5" r="1.9" fill="#7f7f7f"/>
<circle cx="435.36" cy="67.75" r="1.9" fill="#1f77b4"/>
<circle cx="413.54" cy="145.87" r="1.9" fill="#d62728"/>
<circle cx="419.08" cy="99.38" r="1.9" fill="#e377c2"/>
<circle cx="524.22" cy="149.16" r="1.9" fill="#1f77b4"/>
<circle cx="423.43" cy="136.08" r="1.9" fill="#ff7f0e"/>
<circle cx="396.78" cy="68.36" r="1.9" fill="#8c564b"/>
<circle cx="410.35" cy="134.43" r="1.9" fill="#d62728"/>
<circle cx="418.25" cy="85.65" r="1.9" fill="#e377c2"/>
<circle cx="452.63" cy="86.78" r="1.9" fill="#ff7f0e"/>
<circle cx="489.37" cy="133.12" r="1.9" fill="#ff7f0e"/>
<circle cx="481.54" cy="125.64" r="1.9" fill="#1f77b4"/>
<circle cx="333.38" cy="150.68" r="1.9" fill="#7f7f7f"/>
<circle cx="440.79" cy="99.42" r="1.9" fill="#8c564b"/>
<circle cx="396.44" cy="105.24" r="1.9" fill="#9467bd"/>
<circle cx="405.96" cy="80.64" r="1.9" fill="#8c564b"/>
<circle cx="491.9" cy="130.82" r="1.9" fill="#ff7f0e"/>
<circle cx="423.75" cy="145.96" r="1.9" fill="#e377c2"/>
<circle cx="489.95" cy="105.65" r="1.9" fill="#1f77b4"/>
<circle cx="442.49" cy="102.33" r="1.9" fill="#2ca02c"/>
<circle cx="387.93" cy="73.25" r="1.9" fill="#ff7f0e"/>
<circle cx="403.74" cy="149.24" r="1.9" fill="#d62728"/>
<circle cx="381.41" cy="133.33" r="1.9" fill="#9467bd"/>
<circle cx="416.28" cy="149.73" r="1.9" fill="#d62728"/>
<circle cx="348.86" cy="157.19" r="1.9" fill="#7f7f7f"/>
<circle cx="505.41" cy="123.1" r="1.9" fill="#1f77b4"/>
<circle cx="457.82" cy="81.85" r="1.9" fill="#ff7f0e"/>
<circle cx="378.72" cy="111.28" r="1.9" fill="#9467bd"/>
<circle cx="345.45" cy="92.63" r="1.9" fill="#d62728"/>
<circle cx="442.57" cy="104.39" r="1.9" fill="#2ca02c"/>
<circle cx="459.32" cy="60.69" r="1.9" fill="#1f77b4"/>
<circle cx="335.99" cy="102.97" r="1.9" fill="#d62728"/>
<circle cx="445.98" cy="116.4" r="1.9" fill="#ff7f0e"/>
<circle cx="466.84" cy="144.97" r="1.9" fill="#1f77b4"/>
<circle cx="403.56" cy="155.69" r="1.9" fill="#d62728"/>
<circle cx="415.22" cy="155.37" r="1.9" fill="#d62728"/>
<circle cx="439.59" cy="97.4" r="1.9" fill="#2ca02c"/>
<circle cx="440.28" cy="157.33" r="1.9" fill="#e377c2"/>
<circle cx="336.72" cy="146.96" r="1.9" fill="#7f7f7f"/>
<circle cx="381.55" cy="112.62" r="1.9" fill="#9467bd"/>
<circle cx="437.15" cy="103.92" r="1.9" fill="#2ca02c"/>
<circle cx="475.24" cy="82.02" r="1.9" fill="#ff7f0e"/>
<circle cx="415.25" cy="88.32" r="1.9" fill="#2ca02c"/>
<circle cx="372.21" cy="86.53" r="1.9" fill="#d62728"/>
<circle cx="359.89" cy="102.17" r="1.9" fill="#d62728"/>
<circle cx="429.58" cy="106.62" r="1.9" fill="#2ca02c"/>
<circle cx="355.04" cy="95.14" r="1.9" fill="#e377c2"/>
<circle cx="352.97" cy="143.89" r="1.9" fill="#7f7f7f"/>
<circle cx="435.41" cy="126.43" r="1.9" fill="#2ca02c"/>
<circle cx="381.18" cy="76.49" r="1.9" fill="#ff7f0e"/>
<circle cx="404.54" cy="116.81" r="1.9" fill="#9467bd"/>
<circle cx="427.51" cy="107.74" r="1.9" fill="#2ca02c"/>
<circle cx="313.26" cy="135.7" r="1.9" fill="#e377c2"/>
<circle cx="461.89" cy="117.7" r="1.9" fill="#1f77b4"/>
<circle cx="402.6" cy="119.69" r="1.9" fill="#9467bd"/>
<circle cx="437.54" cy="90.39" r="1.9" fill="#ff7f0e"/>
<circle cx="357.02" cy="154.62" r="1.9" fill="#1f77b4"/>
<circle cx="349.54" cy="90.06" r="1.9" fill="#d62728"/>
<circle cx="402.74" cy="74.29" r="1.9" fill="#8c564b"/>
<circle cx="471.2" cy="69.45" r="1.9" fill="#1f77b4"/>
<circle cx="371.1" cy="110.39" r="1.9" fill="#9467bd"/>
<circle cx="416.48" cy="106.17" r="1.9" fill="#ff7f0e"/>
<circle cx="412.91" cy="72.63" r="1.9" fill="#ff7f0e"/>
<circle cx="443.17" cy="99.5" r="1.9" fill="#2ca02c"/>
<circle cx="486.43" cy="118.06" r="1.9" fill="#ff7f0e"/>
<circle cx="320.24" cy="95.07" r="1.9" fill="#d62728"/>
<circle cx="370.54" cy="118.47" r="1.9" fill="#9467bd"/>
<circle cx="346.42" cy="88.35" r="1.9" fill="#d62728"/>
<circle cx="352.13" cy="137.04" r="1.9" fill="#7f7f7f"/>
<circle cx="403.61" cy="89.97" r="1.9" fill="#2ca02c"/>
<circle cx="447.31" cy="79.29" r="1.9" fill="#8c564b"/>
<circle cx="430.8" cy="148.97" r="1.9" fill="#d62728"/>
<circle cx="406.86" cy="44" r="1.9" fill="#1f77b4"/>
<circle cx="418.74" cy="72.83" r="1.9" fill="#8c564b"/>
<circle cx="439.57" cy="104.62" r="1.9" fill="#ff7f0e"/>
<circle cx="415.45" cy="81.82" r="1.9" fill="#2ca02c"/>
<circle cx="419.73" cy="92.67" r="1.9" fill="#2ca02c"/>
<circle cx="460.96" cy="142.19" r="1.9" fill="#ff7f0e"/>
<circle cx="453.85" cy="137.3" r="1.9" fill="#e377c2"/>
<circle cx="364.52" cy="67.09" r="1.9" fill="#e377c2"/>
<circle cx="412.51" cy="77.97" r="1.9" fill="#ff7f0e"/>
<circle cx="371.38" cy="95.25" r="1.9" fill="#d62728"/>
<circle cx="492.13" cy="74.31" r="1.9" fill="#1f77b4"/>
<circle cx="392.36" cy="123.83" r="1.9" fill="#9467bd"/>
<circle cx="377.49" cy="62.36" r="1.9" fill="#e377c2"/>
<circle cx="427.61" cy="96.65" r="1.9" fill="#ff7f0e"/>
<circle cx="396.97" cy="78.57" r="1.9" fill="#ff7f0e"/>
<circle cx="381.52" cy="62.66" r="1.9" fill="#ff7f0e"/>
<circle cx="404.68" cy="131.74" r="1.9" fill="#e377c2"/>
<circle cx="354.98" cy="59.85" r="1.9" fill="#1f77b4"/>
<circle cx="343.73" cy="144.63" r="1.9" fill="#1f77b4"/>
<circle cx="368.31" cy="114.96" r="1.9" fill="#9467bd"/>
<circle cx="421.21" cy="122.52" r="1.9" fill="#2ca02c"/>
<circle cx="330.84" cy="54.92" r="1.9" fill="#1f77b4"/>
<circle cx="427.51" cy="143.28" r="1.9" fill="#d62728"/>
<circle cx="414.82" cy="64.72" r="1.9" fill="#e377c2"/>
<circle cx="375.16" cy="83.57" r="1.9" fill="#ff7f0e"/>
<circle cx="410.9" cy="109.39" r="1.9" fill="#9467bd"/>
<circle cx="419.75" cy="118.65" r="1.9" fill="#2ca02c"/>
<circle cx="417.9" cy="143.17" r="1.9" fill="#d62728"/>
<circle cx="342.89" cy="99.45" r="1.9" fill="#d62728"/>
<circle cx="439.38" cy="89.11" r="1.9" fill="#8c564b"/>
<circle cx="499.23" cy="116.39" r="1.9" fill="#1f77b4"/>
<circle cx="495.07" cy="69.26" r="1.9" fill="#1f77b4"/>
<circle cx="423.3" cy="48.77" r="1.9" fill="#1f77b4"/>
<circle cx="374.09" cy="94.7" r="1.9" fill="#d62728"/>
<circle cx="400.73" cy="101.92" r="1.9" fill="#9467bd"/>
<circle cx="383.83" cy="139.3" r="1.9" fill="#9467bd"/>
<circle cx="422" cy="146.02" r="1.9" fill="#e377c2"/>
<circle cx="476.64" cy="127.94" r="1.9" fill="#1f77b4"/>
<circle cx="398.19" cy="124.5" r="1.9" fill="#9467bd"/>
<circle cx="407.81" cy="92.23" r="1.9" fill="#2ca02c"/>
<circle cx="441.01" cy="134.82" r="1.9" fill="#e377c2"/>
<circle cx="431.71" cy="123.95" r="1.9" fill="#2ca02c"/>
<circle cx="339.86" cy="89.35" r="1.9" fill="#d62728"/>
<circle cx="410.14" cy="137.94" r="1.9" fill="#ff7f0e"/>
<circle cx="471.55" cy="100.55" r="1.9" fill="#ff7f0e"/>
<circle cx="401" cy="121.65" r="1.9" fill="#d62728"/>
<circle cx="341.94" cy="137.4" r="1.9" fill="#7f7f7f"/>
<circle cx="432.79" cy="139.77" r="1.9" fill="#e377c2"/>
<circle cx="396.25" cy="123.45" r="1.9" fill="#9467bd"/>
<circle cx="475.24" cy="136.77" r="1.9" fill="#1f77b4"/>
<circle cx="419.04" cy="141.31" r="1.9" fill="#d62728"/>
<circle cx="458.05" cy="98.31" r="1.9" fill="#ff7f0e"/>
<circle cx="390.5" cy="87.22" r="1.9" fill="#e377c2"/>
<circle cx="347.17" cy="97.82" r="1.9" fill="#d62728"/>
<circle cx="455.75" cy="105.39" r="1.9" fill="#e377c2"/>
<circle cx="404.03" cy="120.06" r="1.9" fill="#9467bd"/>
<circle cx="448.56" cy="93.51" r="1.9" fill="#8c564b"/>
<circle cx="451.51" cy="116.8" r="1.9" fill="#1f77b4"/>
<circle cx="359.26" cy="93.12" r="1.9" fill="#d62728"/>
<circle cx="452.98" cy="99.02" r="1.9" fill="#ff7f0e"/>
<circle cx="431.41" cy="151.55" r="1.9" fill="#e377c2"/>
<circle cx="436.02" cy="88.52" r="1.9" fill="#8c564b"/>
<circle cx="417.08" cy="146.78" r="1.9" fill="#d62728"/>
<circle cx="341.59" cy="149" r="1.9" fill="#7f7f7f"/>
<circle cx="457.21" cy="133.16" r="1.9" fill="#1f77b4"/>
<circle cx="372.23" cy="96.3" r="1.9" fill="#ff7f0e"/>
<circle cx="375.94" cy="71.45" r="1.9" fill="#1f77b4"/>
<circle cx="428.18" cy="63.99" r="1.9" fill="#1f77b4"/>
<circle cx="412.29" cy="115.8" r="1.9" fill="#9467bd"/>
<circle cx="383.65" cy="113.37" r="1.9" fill="#d62728"/>
<circle cx="415.58" cy="95.58" r="1.9" fill="#e377c2"/>
<circle cx="396.53" cy="84.8" r="1.9" fill="#ff7f0e"/>
<circle cx="372.5" cy="77.02" r="1.9" fill="#e377c2"/>
<circle cx="381.59" cy="136.32" r="1.9" fill="#9467bd"/>
<circle cx="450.11" cy="111.19" r="1.9" fill="#2ca02c"/>
<circle cx="393.71" cy="127.2" r="1.9" fill="#9467bd"/>
<circle cx="438.23" cy="113.99" r="1.9" fill="#2ca02c"/>
<circle cx="412.61" cy="129.37" r="1.9" fill="#d62728"/>
<circle cx="399.46" cy="94.56" r="1.9" fill="#e377c2"/>
<circle cx="350.03" cy="95.13" r="1.9" fill="#d62728"/>
<circle cx="440.61" cy="78.67" r="1.9" fill="#ff7f0e"/>
<circle cx="329.41" cy="147.11" r="1.9" fill="#7f7f7f"/>
<circle cx="358.24" cy="95.54" r="1.9" fill="#d62728"/>
<circle cx="334.75" cy="143.48" r="1.9" fill="#7f7f7f"/>
<circle cx="446.56" cy="106.44" r="1.9" fill="#2ca02c"/>
<circle cx="351.09" cy="146.15" r="1.9" fill="#7f7f7f"/>
<circle cx="366.12" cy="99.17" r="1.9" fill="#d62728"/>
<circle cx="401.82" cy="79.56" r="1.9" fill="#ff7f0e"/>
<circle cx="334.82" cy="98.75" r="1.9" fill="#d62728"/>
<circle cx="460.54" cy="107.91" r="1.9" fill="#1f77b4"/>
<circle cx="431.89" cy="131.8" r="1.9" fill="#e377c2"/>
<circle cx="432.01" cy="88.16" r="1.9" fill="#ff7f0e"/>
<circle cx="432.28" cy="92.98" r="1.9" fill="#ff7f0e"/>
<circle cx="326.88" cy="145.74" r="1.9" fill="#7f7f7f"/>
<circle cx="447.29" cy="106.04" r="1.9" fill="#ff7f0e"/>
<circle cx="418.08" cy="80.9" r="1.9" fill="#8c564b"/>
<circle cx="445.02" cy="109.51" r="1.9" fill="#e377c2"/>
<circle cx="410.32" cy="162.91" r="1.9" fill="#d62728"/>
<circle cx="433.89" cy="136.56" r="1.9" fill="#d62728"/>
<circle cx="386.8" cy="72.18" r="1.9" fill="#ff7f0e"/>
<circle cx="490.5" cy="106.54" r="1.9" fill="#ff7f0e"/>
<circle cx="339.01" cy="143.9" r="1.9" fill="#7f7f7f"/>
<circle cx="430.52" cy="83.75" r="1.9" fill="#2ca02c"/>
<circle cx="442.79" cy="102.4" r="1.9" fill="#ff7f0e"/>
<circle cx="344.93" cy="151.68" r="1.9" fill="#7f7f7f"/>
<circle cx="380.16" cy="64.93" r="1.9" fill="#e377c2"/>
<circle cx="404.03" cy="97.78" r="1.9" fill="#e377c2"/>
<circle cx="385.91" cy="113.47" r="1.9" fill="#d62728"/>
<circle cx="375.88" cy="102.09" r="1.9" fill="#d62728"/>
<circle cx="458.38" cy="131.37" r="1.9" fill="#1f77b4"/>
<circle cx="451.26" cy="79.32" r="1.9" fill="#ff7f0e"/>
<circle cx="397.05" cy="81.55" r="1.9" fill="#8c564b"/>
<circle cx="414.09" cy="79.2" r="1.9" fill="#2ca02c"/>
<circle cx="362.78" cy="69.34" r="1.9" fill="#ff7f0e"/>
<circle cx="423.63" cy="127.11" r="1.9" fill="#d62728"/>
<circle cx="420.28" cy="108.45" r="1.9" fill="#2ca02c"/>
<circle cx="372.11" cy="61.63" r="1.9" fill="#e377c2"/>
<circle cx="417.17" cy="127.78" r="1.9" fill="#d62728"/>
<circle cx="415.91" cy="143.86" r="1.9" fill="#d62728"/>
<circle cx="363.96" cy="115.66" r="1.9" fill="#9467bd"/>
<circle cx="472.44" cy="139.8" r="1.9" fill="#1f77b4"/>
<circle cx="451.56" cy="50.07" r="1.9" fill="#1f77b4"/>
<circle cx="396.14" cy="85.74" r="1.9" fill="#e377c2"/>
<circle cx="374.28" cy="118.13" r="1.9" fill="#9467bd"/>
<circle cx="428.79" cy="115" r="1.9" fill="#2ca02c"/>
<circle cx="413.05" cy="64.83" r="1.9" fill="#1f77b4"/>
<circle cx="433.78" cy="105.38" r="1.9" fill="#2ca02c"/>
<circle cx="417.98" cy="140.99" r="1.9" fill="#d62728"/>
<circle cx="345.24" cy="61.35" r="1.9" fill="#e377c2"/>
<circle cx="453.05" cy="110.57" r="1.9" fill="#e377c2"/>
<circle cx="427.93" cy="70.96" r="1.9" fill="#2ca02c"/>
<circle cx="417.87" cy="113.76" r="1.9" fill="#e377c2"/>
<circle cx="434.24" cy="140.65" r="1.9" fill="#e377c2"/>
<circle cx="459.56" cy="76.01" r="1.9" fill="#ff7f0e"/>
<circle cx="355.75" cy="146.17" r="1.9" fill="#7f7f7f"/>
<circle cx="423.81" cy="161.3" r="1.9" fill="#d62728"/>
<circle cx="343.15" cy="98.51" r="1.9" fill="#d62728"/>
<circle cx="415.43" cy="77.5" r="1.9" fill="#2ca02c"/>
<circle cx="396.16" cy="95.53" r="1.9" fill="#2ca02c"/>
<circle cx="447.75" cy="139.34" r="1.9" fill="#e377c2"/>
<circle cx="425.78" cy="127.31" r="1.9" fill="#d62728"/>
<circle cx="338.08" cy="150.41" r="1.9" fill="#7f7f7f"/>
<circle cx="376.71" cy="95.91" r="1.9" fill="#d62728"/>
<circle cx="489.29" cy="71.75" r="1.9" fill="#1f77b4"/>
<circle cx="449.15" cy="88.05" r="1.9" fill="#ff7f0e"/>
<circle cx="413.85" cy="91.88" r="1.9" fill="#2ca02c"/>
<circle cx="437.2" cy="112.85" r="1.9" fill="#8c564b"/>
<circle cx="345.69" cy="144.89" r="1.9" fill="#7f7f7f"/>
<circle cx="460.3" cy="104.08" r="1.9" fill="#ff7f0e"/>
<circle cx="438.08" cy="102.61" r="1.9" fill="#8c564b"/>
<circle cx="414.28" cy="139.41" r="1.9" fill="#d62728"/>
<circle cx="351.06" cy="74.43" r="1.9" fill="#e377c2"/>
<circle cx="335.85" cy="137.84" r="1.9" fill="#7f7f7f"/>
<circle cx="350.91" cy="149.24" r="1.9" fill="#7f7f7f"/>
<circle cx="459.15" cy="92.96" r="1.9" fill="#ff7f0e"/>
<circle cx="445.17" cy="130.8" r="1.9" fill="#ff7f0e"/>
<circle cx="463.86" cy="126.51" r="1.9" fill="#1f77b4"/>
<circle cx="461.96" cy="156.15" r="1.9" fill="#1f77b4"/>
<circle cx="443.56" cy="131.85" r="1.9" fill="#e377c2"/>
<circle cx="426.92" cy="132.65" r="1.9" fill="#e377c2"/>
<circle cx="410.08" cy="74.57" r="1.9" fill="#8c564b"/>
<circle cx="341.65" cy="99.4" r="1.9" fill="#e377c2"/>
<circle cx="444.65" cy="107.84" r="1.9" fill="#2ca02c"/>
<circle cx="337.22" cy="141.58" r="1.9" fill="#7f7f7f"/>
<circle cx="422.86" cy="145.56" r="1.9" fill="#e377c2"/>
<circle cx="344.97" cy="97.18" r="1.9" fill="#d62728"/>
<circle cx="433.04" cy="131.12" r="1.9" fill="#d62728"/>
<circle cx="396.28" cy="74.84" r="1.9" fill="#ff7f0e"/>
<circle cx="364.99" cy="95.61" r="1.9" fill="#e377c2"/>
<circle cx="364.83" cy="139.66" r="1.9" fill="#e377c2"/>
<circle cx="367.91" cy="112.95" r="1.9" fill="#9467bd"/>
<circle cx="496.8" cy="57.2" r="1.9" fill="#1f77b4"/>
<circle cx="418.44" cy="114.65" r="1.9" fill="#2ca02c"/>
<circle cx="458.46" cy="76.89" r="1.9" fill="#1f77b4"/>
<circle cx="455.47" cy="106.56" r="1.9" fill="#ff7f0e"/>
<circle cx="348.58" cy="150.21" r="1.9" fill="#1f77b4"/>
<circle cx="372.4" cy="115.09" r="1.9" fill="#9467bd"/>
<circle cx="451.68" cy="83.5" r="1.9" fill="#e377c2"/>
<circle cx="384.43" cy="107.14" r="1.9" fill="#9467bd"/>
<circle cx="403.12" cy="81.76" r="1.9" fill="#ff7f0e"/>
<circle cx="355.58" cy="81.92" r="1.9" fill="#e377c2"/>
<circle cx="380.98" cy="101.57" r="1.9" fill="#d62728"/>
<circle cx="412.37" cy="90.57" r="1.9" fill="#ff7f0e"/>
<circle cx="441.42" cy="140.97" r="1.9" fill="#e377c2"/>
<circle cx="481.45" cy="144.66" r="1.9" fill="#1f77b4"/>
<circle cx="419.93" cy="153.81" r="1.9" fill="#d62728"/>
<circle cx="355.39" cy="95.68" r="1.9" fill="#d62728"/>
<circle cx="451.85" cy="84.77" r="1.9" fill="#1f77b4"/>
<circle cx="447.54" cy="149.1" r="1.9" fill="#e377c2"/>
<circle cx="433.33" cy="78.71" r="1.9" fill="#ff7f0e"/>
<circle cx="489.84" cy="138.47" r="1.9" fill="#1f77b4"/>
<circle cx="421.74" cy="161.02" r="1.9" fill="#e377c2"/>
<circle cx="410.58" cy="90.05" r="1.9" fill="#e377c2"/>
<circle cx="478.33" cy="122.13" r="1.9" fill="#1f77b4"/>
<circle cx="430.27" cy="118.58" r="1.9" fill="#2ca02c"/>
<circle cx="400.68" cy="121.42" r="1.9" fill="#9467bd"/>
<circle cx="384.71" cy="134.55" r="1.9" fill="#9467bd"/>
<circle cx="441.44" cy="111.16" r="1.9" fill="#1f77b4"/>
<circle cx="362.63" cy="118.94" r="1.9" fill="#9467bd"/>
<circle cx="338.73" cy="73.07" r="1.9" fill="#1f77b4"/>
<circle cx="447.3" cy="136.17" r="1.9" fill="#1f77b4"/>
<circle cx="438.37" cy="87.8" r="1.9" fill="#ff7f0e"/>
<circle cx="425.36" cy="134.85" r="1.9" fill="#2ca02c"/>
<circle cx="396.38" cy="86.02" r="1.9" fill="#2ca02c"/>
<circle cx="442.44" cy="90.61" r="1.9" fill="#ff7f0e"/>
<circle cx="473.71" cy="91.6" r="1.9" fill="#ff7f0e"/>
<circle cx="471.58" cy="106.23" r="1.9" fill="#ff7f0e"/>
<circle cx="343.91" cy="156.74" r="1.9" fill="#1f77b4"/>
<circle cx="421.73" cy="79.41" r="1.9" fill="#2ca02c"/>
<circle cx="401.14" cy="77.72" r="1.9" fill="#ff7f0e"/>
<circle cx="415.23" cy="71.41" r="1.9" fill="#ff7f0e"/>
<circle cx="320.3" cy="146.79" r="1.9" fill="#e377c2"/>
<circle cx="410.8" cy="107.49" r="1.9" fill="#9467bd"/>
<circle cx="425.75" cy="94.58" r="1.9" fill="#8c564b"/>
<circle cx="387.6" cy="87.19" r="1.9" fill="#ff7f0e"/>
<circle cx="450.3" cy="128.47" r="1.9" fill="#ff7f0e"/>
<circle cx="475.24" cy="129.98" r="1.9" fill="#1f77b4"/>
<circle cx="407.02" cy="31.95" r="1.9" fill="#1f77b4"/>
<circle cx="426.41" cy="157.49" r="1.9" fill="#d62728"/>
<circle cx="430.24" cy="134.6" r="1.9" fill="#d62728"/>
<circle cx="429.65" cy="113.98" r="1.9" fill="#2ca02c"/>
<circle cx="364.26" cy="60.04" r="1.9" fill="#1f77b4"/>
<circle cx="392.57" cy="76.27" r="1.9" fill="#ff7f0e"/>
<circle cx="354.39" cy="66.3" r="1.9" fill="#e377c2"/>
<circle cx="375.74" cy="111.9" r="1.9" fill="#9467bd"/>
<circle cx="338.33" cy="148.23" r="1.9" fill="#7f7f7f"/>
<circle cx="430.03" cy="84.95" r="1.9" fill="#2ca02c"/>
<circle cx="439.53" cy="100.18" r="1.9" fill="#2ca02c"/>
<circle cx="366.62" cy="82.12" r="1.9" fill="#ff7f0e"/>
<circle cx="419.69" cy="66.8" r="1.9" fill="#1f77b4"/>
<circle cx="409.03" cy="71.61" r="1.9" fill="#e377c2"/>
<circle cx="454.23" cy="93.25" r="1.9" fill="#ff7f0e"/>
<circle cx="453.46" cy="94.75" r="1.9" fill="#1f77b4"/>
<circle cx="500.62" cy="133.92" r="1.9" fill="#1f77b4"/>
<circle cx="424.05" cy="77.4" r="1.9" fill="#2ca02c"/>
<circle cx="319.69" cy="73.76" r="1.9" fill="#e377c2"/>
<circle cx="483.38" cy="140" r="1.9" fill="#1f77b4"/>
<circle cx="444.71" cy="108.27" r="1.9" fill="#ff7f0e"/>
<circle cx="472.97" cy="130.02" r="1.9" fill="#1f77b4"/>
<circle cx="409.26" cy="104.87" r="1.9" fill="#ff7f0e"/>
<circle cx="396.65" cy="121.07" r="1.9" fill="#9467bd"/>
<circle cx="358.28" cy="62.07" r="1.9" fill="#e377c2"/>
<circle cx="457.93" cy="100.99" r="1.9" fill="#ff7f0e"/>
<circle cx="449.26" cy="90.41" r="1.9" fill="#ff7f0e"/>
<circle cx="450.69" cy="78.41" r="1.9" fill="#ff7f0e"/>
<circle cx="320.79" cy="70.59" r="1.9" fill="#e377c2"/>
<circle cx="431.16" cy="97.06" r="1.9" fill="#e377c2"/>
<circle cx="460.49" cy="137.01" r="1.9" fill="#1f77b4"/>
<circle cx="531.26" cy="157.08" r="1.9" fill="#1f77b4"/>
<circle cx="443.97" cy="93.26" r="1.9" fill="#8c564b"/>
<circle cx="413.95" cy="105.61" r="1.9" fill="#ff7f0e"/>
<circle cx="496.13" cy="121.42" r="1.9" fill="#1f77b4"/>
<circle cx="399.34" cy="123.58" r="1.9" fill="#9467bd"/>
<circle cx="439.7" cy="135.59" r="1.9" fill="#e377c2"/>
<circle cx="365.21" cy="101.71" r="1.9" fill="#d62728"/>
<circle cx="432.71" cy="127.17" r="1.9" fill="#d62728"/>
<circle cx="353.11" cy="28.78" r="1.9" fill="#1f77b4"/>
<circle cx="462.16" cy="67.53" r="1.9" fill="#ff7f0e"/>
<circle cx="378.7" cy="80.25" r="1.9" fill="#ff7f0e"/>
<circle cx="387.67" cy="79.6" r="1.9" fill="#ff7f0e"/>
<circle cx="325.97" cy="151.04" r="1.9" fill="#7f7f7f"/>
<circle cx="488.57" cy="116.22" r="1.9" fill="#1f77b4"/>
<circle cx="451.52" cy="77.04" r="1.9" fill="#ff7f0e"/>
<circle cx="339.53" cy="148.16" r="1.9" fill="#7f7f7f"/>
<circle cx="398.36" cy="88.55" r="1.9" fill="#2ca02c"/>
<circle cx="437.21" cy="84.59" r="1.9" fill="#ff7f0e"/>
<circle cx="399.23" cy="73.2" r="1.9" fill="#8c564b"/>
<circle cx="427.07" cy="65.04" r="1.9" fill="#1f77b4"/>
<circle cx="379.4" cy="112.39" r="1.9" fill="#9467bd"/>
<circle cx="497.94" cy="93.74" r="1.9" fill="#1f77b4"/>
<circle cx="467.19" cy="138.11" r="1.9" fill="#1f77b4"/>
<circle cx="456.76" cy="67.06" r="1.9" fill="#1f77b4"/>
<circle cx="479.69" cy="148.01" r="1.9" fill="#1f77b4"/>
<circle cx="442.35" cy="100.14" r="1.9" fill="#ff7f0e"/>
<circle cx="388.7" cy="130" r="1.9" fill="#9467bd"/>
<circle cx="401.2" cy="80.89" r="1.9" fill="#8c564b"/>
<circle cx="423.48" cy="108.04" r="1.9" fill="#e377c2"/>
<circle cx="444.42" cy="103.79" r="1.9" fill="#ff7f0e"/>
<circle cx="327.29" cy="153.76" r="1.9" fill="#1f77b4"/>
<circle cx="460.23" cy="81.25" r="1.9" fill="#ff7f0e"/>
<circle cx="440.32" cy="88.15" r="1.9" fill="#8c564b"/>
<circle cx="419.94" cy="150.88" r="1.9" fill="#d62728"/>
<circle cx="357.91" cy="156.9" r="1.9" fill="#ff7f0e"/>
<circle cx="447.05" cy="71.69" r="1.9" fill="#ff7f0e"/>
<circle cx="339.53" cy="88.7" r="1.9" fill="#d62728"/>
</g>
<rect x="307.2" y="14.1" width="236.1" height="155.6" fill="none" stroke="#4a4a4a" stroke-width="1"/>
<g stroke="#444" stroke-width="0.7">
<line x1="328.5" y1="169.7" x2="328.5" y2="172"/>
<line x1="357.8" y1="169.7" x2="357.8" y2="172"/>
<line x1="387.1" y1="169.7" x2="387.1" y2="172"/>
<line x1="416.4" y1="169.7" x2="416.4" y2="172"/>
<line x1="445.7" y1="169.7" x2="445.7" y2="172"/>
<line x1="475" y1="169.7" x2="475" y2="172"/>
<line x1="504.3" y1="169.7" x2="504.3" y2="172"/>
<line x1="533.6" y1="169.7" x2="533.6" y2="172"/>
<line x1="304.9" y1="155.5" x2="307.2" y2="155.5"/>
<line x1="304.9" y1="135.7" x2="307.2" y2="135.7"/>
<line x1="304.9" y1="115.9" x2="307.2" y2="115.9"/>
<line x1="304.9" y1="96.1" x2="307.2" y2="96.1"/>
<line x1="304.9" y1="76.3" x2="307.2" y2="76.3"/>
<line x1="304.9" y1="56.5" x2="307.2" y2="56.5"/>
<line x1="304.9" y1="36.7" x2="307.2" y2="36.7"/>
<line x1="304.9" y1="16.9" x2="307.2" y2="16.9"/>
</g>
<g class="ser" font-size="8.3" fill="#262626" stroke="#262626" stroke-width="0.22">
<text x="328.5" y="180.1" text-anchor="middle">25</text>
<text x="357.8" y="180.1" text-anchor="middle">50</text>
<text x="387.1" y="180.1" text-anchor="middle">75</text>
<text x="416.4" y="180.1" text-anchor="middle">100</text>
<text x="445.7" y="180.1" text-anchor="middle">125</text>
<text x="475" y="180.1" text-anchor="middle">150</text>
<text x="504.3" y="180.1" text-anchor="middle">175</text>
<text x="533.6" y="180.1" text-anchor="middle">200</text>
<text x="302.6" y="158.5" text-anchor="end">25</text>
<text x="302.6" y="138.7" text-anchor="end">50</text>
<text x="302.6" y="118.9" text-anchor="end">75</text>
<text x="302.6" y="99.1" text-anchor="end">100</text>
<text x="302.6" y="79.3" text-anchor="end">125</text>
<text x="302.6" y="59.5" text-anchor="end">150</text>
<text x="302.6" y="39.7" text-anchor="end">175</text>
<text x="302.6" y="19.9" text-anchor="end">200</text>
<text x="425" y="189.2" text-anchor="middle" font-size="8.6">anchor_width</text>
<text transform="translate(285.6,92.2) rotate(-90)" text-anchor="middle" font-size="8.3" textLength="44" lengthAdjust="spacingAndGlyphs">anchor_height</text>
</g>
<text class="ser" x="365.2" y="10.7" font-size="9.5" fill="#222" stroke="#222" stroke-width="0.2" textLength="119.6" lengthAdjust="spacingAndGlyphs">Scatter Plot of Anchor Boxes</text>
<rect x="453.4" y="17.5" width="84.2" height="98.8" rx="1.6" fill="#fff" fill-opacity="0.8" stroke="#ccc" stroke-opacity="0.8" stroke-width="0.7"/>
<g class="ser" font-size="8.5" fill="#262626" stroke="#262626" stroke-width="0.2">
<text x="481" y="26.1">class</text>
<circle cx="464.7" cy="34.4" r="2.3" fill="#1f77b4" stroke="#fff" stroke-width="0.55"/>
<text x="481" y="37.1">screw_drive</text>
<circle cx="464.7" cy="45.2" r="2.3" fill="#ff7f0e" stroke="#fff" stroke-width="0.55"/>
<text x="481" y="47.9">scissors</text>
<circle cx="464.7" cy="56" r="2.3" fill="#2ca02c" stroke="#fff" stroke-width="0.55"/>
<text x="481" y="58.7">mobile_phone</text>
<circle cx="464.7" cy="66.8" r="2.3" fill="#d62728" stroke="#fff" stroke-width="0.55"/>
<text x="481" y="69.5">board_marker</text>
<circle cx="464.7" cy="77.6" r="2.3" fill="#9467bd" stroke="#fff" stroke-width="0.55"/>
<text x="481" y="80.3">wireless_mouse</text>
<circle cx="464.7" cy="88.4" r="2.3" fill="#8c564b" stroke="#fff" stroke-width="0.55"/>
<text x="481" y="91.1">water_bottle</text>
<circle cx="464.7" cy="99.2" r="2.3" fill="#e377c2" stroke="#fff" stroke-width="0.55"/>
<text x="481" y="101.9">knife</text>
<circle cx="464.7" cy="110" r="2.3" fill="#7f7f7f" stroke="#fff" stroke-width="0.55"/>
<text x="481" y="112.7">blade</text>
</g>
</g>
<g id="heat">
<defs>
<linearGradient id="gtop" x1="0" y1="0" x2="0" y2="1"><stop offset="0" stop-color="#000c80"/><stop offset="0.1" stop-color="#0040f0"/><stop offset="0.24" stop-color="#00c8ff"/><stop offset="0.4" stop-color="#20ff80"/><stop offset="0.58" stop-color="#b8ff10"/><stop offset="0.7" stop-color="#ffe000"/><stop offset="0.85" stop-color="#ff7000"/><stop offset="1" stop-color="#ff0000"/></linearGradient>
<linearGradient id="gbot" x1="0" y1="0" x2="0" y2="1"><stop offset="0" stop-color="#ff0000"/><stop offset="0.1" stop-color="#ff3800"/><stop offset="0.2" stop-color="#ff1000"/><stop offset="0.32" stop-color="#ff4a00"/><stop offset="0.42" stop-color="#ff1800"/><stop offset="0.55" stop-color="#ff5000"/><stop offset="0.66" stop-color="#ff3000"/><stop offset="0.8" stop-color="#ff6a00"/><stop offset="0.92" stop-color="#ff8a00"/><stop offset="1" stop-color="#e8a000"/></linearGradient>
<filter id="b1" x="-10%" y="-10%" width="120%" height="120%"><feGaussianBlur stdDeviation="0.55"/></filter>
<filter id="rough" x="-5%" y="-5%" width="110%" height="110%"><feTurbulence type="fractalNoise" baseFrequency="0.42" numOctaves="2" seed="3" result="n"/><feDisplacementMap in="SourceGraphic" in2="n" scale="2.6" xChannelSelector="R" yChannelSelector="G"/><feGaussianBlur stdDeviation="0.5"/></filter>
<filter id="b2" x="-10%" y="-10%" width="120%" height="120%"><feGaussianBlur stdDeviation="1.1"/></filter>
<clipPath id="hc"><rect x="110" y="212.8" width="181.5" height="109.7"/></clipPath>
</defs>
<rect x="110" y="212.8" width="181.5" height="109.7" fill="#ff0000"/>
<g clip-path="url(#hc)">
<rect x="110" y="212.8" width="181.5" height="10.8" fill="url(#gtop)"/>
<rect x="110" y="311.5" width="181.5" height="11" fill="url(#gbot)"/>
<g filter="url(#b1)" fill="#ffc800">
<rect x="199.43" y="313.94" width="1.13" height="4.33" fill-opacity="0.25"/>
<rect x="204.06" y="317.56" width="1.85" height="3.2" fill-opacity="0.57"/>
<rect x="215.36" y="316.44" width="0.78" height="4.17" fill-opacity="0.31"/>
<rect x="162.04" y="313.07" width="1.46" height="2.48" fill-opacity="0.4"/>
<rect x="174.57" y="312.4" width="1.77" height="3.51" fill-opacity="0.27"/>
<rect x="221.67" y="311.73" width="1.18" height="3.82" fill-opacity="0.55"/>
<rect x="226.37" y="318.73" width="1.51" height="4.23" fill-opacity="0.53"/>
<rect x="217.41" y="319.79" width="2.12" height="2.91" fill-opacity="0.41"/>
<rect x="209.91" y="318.37" width="1.79" height="2.58" fill-opacity="0.27"/>
<rect x="159.47" y="318.87" width="2.05" height="1.58" fill-opacity="0.38"/>
<rect x="199.2" y="314.98" width="0.78" height="4.08" fill-opacity="0.47"/>
<rect x="174.89" y="314.77" width="1.27" height="3.42" fill-opacity="0.56"/>
<rect x="196.14" y="313.19" width="1.22" height="4.02" fill-opacity="0.51"/>
<rect x="178.18" y="319.15" width="1.6" height="4.49" fill-opacity="0.56"/>
<rect x="155.48" y="314.46" width="0.72" height="4.37" fill-opacity="0.33"/>
<rect x="166.67" y="315.43" width="2.09" height="3.48" fill-opacity="0.55"/>
<rect x="202.38" y="315.68" width="1.39" height="3.21" fill-opacity="0.26"/>
<rect x="160.48" y="319.99" width="0.98" height="2.37" fill-opacity="0.43"/>
<rect x="209.6" y="311.02" width="1.89" height="3.31" fill-opacity="0.27"/>
<rect x="179.34" y="319.42" width="1.81" height="1.97" fill-opacity="0.47"/>
<rect x="156.16" y="314.17" width="1.19" height="4.47" fill-opacity="0.43"/>
<rect x="227.8" y="314.91" width="1.83" height="1.53" fill-opacity="0.55"/>
<rect x="198.39" y="313.78" width="1.95" height="4.2" fill-opacity="0.31"/>
<rect x="151.4" y="316.49" width="2.02" height="1.84" fill-opacity="0.45"/>
<rect x="154.27" y="310.55" width="1.46" height="4.2" fill-opacity="0.55"/>
<rect x="207.15" y="317.13" width="1.02" height="2.89" fill-opacity="0.3"/>
<rect x="167.07" y="311.53" width="1.36" height="1.59" fill-opacity="0.3"/>
<rect x="205.01" y="316.04" width="1.05" height="2.15" fill-opacity="0.47"/>
<rect x="154.33" y="317.74" width="1.9" height="4.21" fill-opacity="0.31"/>
<rect x="212.62" y="315.39" width="1.05" height="3.97" fill-opacity="0.33"/>
<rect x="163.99" y="318.72" width="2.16" height="3.66" fill-opacity="0.29"/>
<rect x="186.99" y="315.94" width="1.02" height="4.01" fill-opacity="0.4"/>
<rect x="190.87" y="314.88" width="0.7" height="4.11" fill-opacity="0.55"/>
<rect x="221.81" y="315.59" width="1.32" height="2.46" fill-opacity="0.31"/>
<rect x="167.32" y="315.43" width="1.31" height="3.67" fill-opacity="0.6"/>
<rect x="168.21" y="318.69" width="1.23" height="2.81" fill-opacity="0.36"/>
<rect x="200.8" y="314.46" width="0.91" height="3.27" fill-opacity="0.29"/>
<rect x="173.69" y="314.18" width="1.96" height="3.81" fill-opacity="0.46"/>
<rect x="187.85" y="312.77" width="1.48" height="2.92" fill-opacity="0.43"/>
<rect x="190.01" y="312.33" width="1.23" height="2.65" fill-opacity="0.27"/>
<rect x="158.04" y="317.34" width="1.2" height="3.61" fill-opacity="0.54"/>
<rect x="201.64" y="314.65" width="1.95" height="3.14" fill-opacity="0.26"/>
<rect x="212.75" y="314.77" width="1.46" height="3.64" fill-opacity="0.49"/>
<rect x="226.17" y="316.2" width="0.93" height="3.46" fill-opacity="0.51"/>
<rect x="150.31" y="316.86" width="1.64" height="3.53" fill-opacity="0.39"/>
<rect x="176.13" y="315.71" width="1.03" height="3.9" fill-opacity="0.3"/>
<rect x="194.15" y="316.51" width="1.13" height="1.91" fill-opacity="0.57"/>
<rect x="228.04" y="316.16" width="1.91" height="2.82" fill-opacity="0.35"/>
<rect x="191.72" y="310.2" width="1.52" height="3.88" fill-opacity="0.36"/>
<rect x="225.04" y="311.16" width="1.08" height="3.33" fill-opacity="0.45"/>
<rect x="218.57" y="310.17" width="1.9" height="1.7" fill-opacity="0.53"/>
<rect x="200.27" y="310.12" width="2.04" height="2.36" fill-opacity="0.42"/>
<rect x="225.14" y="313.77" width="0.81" height="2.13" fill-opacity="0.51"/>
<rect x="161.25" y="313.11" width="1.03" height="2.81" fill-opacity="0.29"/>
<rect x="227.7" y="319.07" width="0.86" height="1.93" fill-opacity="0.44"/>
<rect x="227.88" y="317.73" width="0.92" height="4.01" fill-opacity="0.26"/>
<rect x="189.75" y="317.3" width="1.33" height="3.39" fill-opacity="0.5"/>
<rect x="164.36" y="311.26" width="1.15" height="1.75" fill-opacity="0.31"/>
<rect x="153.12" y="313.28" width="1.74" height="2.01" fill-opacity="0.41"/>
<rect x="158.57" y="311.97" width="1.24" height="4.32" fill-opacity="0.32"/>
<rect x="159.67" y="318.57" width="1.19" height="2.73" fill-opacity="0.41"/>
<rect x="188.65" y="310.24" width="1.71" height="4.2" fill-opacity="0.31"/>
<rect x="221.43" y="317.94" width="1.64" height="3.47" fill-opacity="0.41"/>
<rect x="199.78" y="319.05" width="1.87" height="3.14" fill-opacity="0.56"/>
<rect x="151.1" y="314.39" width="0.73" height="3.4" fill-opacity="0.48"/>
<rect x="190.91" y="311.47" width="0.77" height="3.86" fill-opacity="0.43"/>
<rect x="189.74" y="316.88" width="0.93" height="3.44" fill-opacity="0.43"/>
<rect x="223.82" y="317.02" width="2.11" height="4.03" fill-opacity="0.38"/>
<rect x="206.45" y="311.89" width="1.27" height="3.49" fill-opacity="0.37"/>
<rect x="188.36" y="315.8" width="2.17" height="1.98" fill-opacity="0.56"/>
<rect x="176.45" y="310.95" width="0.97" height="1.56" fill-opacity="0.3"/>
<rect x="201.88" y="304.03" width="1.45" height="1.12" fill-opacity="0.3"/>
<rect x="203.55" y="307.92" width="1.74" height="1.14" fill-opacity="0.3"/>
<rect x="199.42" y="307.82" width="1.94" height="1.82" fill-opacity="0.3"/>
<rect x="224.33" y="307.44" width="1.78" height="0.76" fill-opacity="0.3"/>
<rect x="190.69" y="304.58" width="1.24" height="1.08" fill-opacity="0.3"/>
<rect x="195.46" y="308.94" width="0.71" height="1.47" fill-opacity="0.3"/>
<rect x="173.02" y="306.64" width="1.84" height="1.49" fill-opacity="0.3"/>
<rect x="191.12" y="310.18" width="1.75" height="0.81" fill-opacity="0.3"/>
<rect x="191.93" y="306.58" width="0.75" height="1.78" fill-opacity="0.3"/>
<rect x="182.96" y="304.46" width="1.04" height="1.72" fill-opacity="0.3"/>
<rect x="177.34" y="307.56" width="1.35" height="1.39" fill-opacity="0.3"/>
<rect x="211.13" y="308.85" width="1.54" height="1.06" fill-opacity="0.3"/>
<rect x="203.58" y="306.22" width="1.59" height="1.61" fill-opacity="0.3"/>
<rect x="222.5" y="304.32" width="1.79" height="1.75" fill-opacity="0.3"/>
<rect x="182.71" y="308.21" width="1.82" height="1.66" fill-opacity="0.3"/>
<rect x="221.25" y="306.46" width="1.81" height="1.82" fill-opacity="0.3"/>
<rect x="180.58" y="307.54" width="1.28" height="0.73" fill-opacity="0.3"/>
<rect x="169.91" y="309.54" width="1.85" height="0.98" fill-opacity="0.3"/>
<rect x="201.04" y="310.13" width="0.8" height="1.08" fill-opacity="0.3"/>
</g>
<g filter="url(#rough)" fill="none" stroke-linecap="round">
<path d="M154.5,213.5 C161,217 167.5,226 167.3,234.5 L166.5,241" stroke="#b0ff40" stroke-width="1.4" stroke-opacity="0.95"/>
<path d="M158.5,213.5 C164,216 169.5,222 170.5,230" stroke="#e0ff20" stroke-width="1.2" stroke-opacity="0.95"/>
<path d="M140.3,233.7 C145,239 150,242 155.8,242.7" stroke="#ffa000" stroke-width="0.8" stroke-opacity="0.8"/>
<path d="M172,241 L222,234.5" stroke="#ff8000" stroke-width="0.9" stroke-opacity="0.55"/>
<path d="M182,232 L232,227" stroke="#ff7000" stroke-width="0.8" stroke-opacity="0.4"/>
<path d="M177,250 L181,291" stroke="#ff8000" stroke-width="0.7" stroke-opacity="0.45"/>
<path d="M186,252 L191,284" stroke="#ffa000" stroke-width="0.7" stroke-opacity="0.45"/>
</g>
<g filter="url(#b1)" fill="#ff9000" fill-opacity="0.35">
<rect x="225.75" y="232.96" width="2.91" height="1.25"/>
<rect x="220.5" y="233.61" width="2.68" height="0.86"/>
<rect x="182.51" y="238.32" width="1.45" height="1.46"/>
<rect x="186.33" y="226.67" width="1.12" height="0.76"/>
<rect x="235.79" y="227.43" width="2.99" height="0.66"/>
<rect x="196.52" y="233.24" width="2.94" height="0.81"/>
<rect x="198.64" y="230.45" width="1.63" height="0.66"/>
<rect x="196.55" y="233.75" width="1.96" height="1.13"/>
<rect x="184.54" y="226.66" width="2.04" height="0.72"/>
<rect x="192.37" y="238.01" width="2.83" height="1.5"/>
<rect x="202.05" y="238.8" width="2.13" height="0.7"/>
<rect x="203.84" y="239.53" width="1.66" height="0.94"/>
<rect x="178.1" y="228.83" width="1.22" height="1.57"/>
<rect x="203.91" y="227.09" width="1.66" height="1.18"/>
<rect x="183.41" y="235.87" width="1.64" height="1.06"/>
<rect x="233.23" y="230.19" width="1.74" height="1.38"/>
<rect x="232.04" y="234.52" width="1.96" height="1.53"/>
<rect x="184.66" y="239.25" width="2.33" height="0.77"/>
<rect x="184.05" y="225.43" width="1.59" height="1.31"/>
<rect x="217.39" y="232.56" width="1.84" height="0.81"/>
<rect x="176.54" y="231.27" width="2.33" height="1.35"/>
<rect x="187.18" y="223.99" width="1.57" height="0.7"/>
<rect x="184.36" y="232.45" width="2.34" height="0.87"/>
<rect x="234.39" y="223.58" width="1.56" height="1.5"/>
<rect x="216.36" y="231.27" width="1.7" height="1.31"/>
<rect x="206.1" y="225.25" width="2.15" height="1.59"/>
<rect x="229.99" y="226.03" width="1.42" height="0.72"/>
<rect x="209.47" y="235.31" width="2.91" height="1.27"/>
<rect x="196.59" y="239.87" width="1.05" height="1.2"/>
<rect x="216.65" y="229.64" width="2.66" height="1.49"/>
<rect x="204.92" y="229.7" width="2.74" height="0.62"/>
<rect x="173.74" y="222.98" width="1.86" height="1.13"/>
<rect x="196.65" y="228.69" width="1.73" height="0.73"/>
<rect x="230.82" y="228.66" width="2.09" height="0.76"/>
<rect x="181.71" y="223.99" width="2.59" height="0.72"/>
<rect x="191.79" y="232.21" width="1.19" height="1.1"/>
<rect x="190.73" y="280" width="1.33" height="1.47"/>
<rect x="170.71" y="287.03" width="0.61" height="2.79"/>
<rect x="184.16" y="280.94" width="1.43" height="2.18"/>
<rect x="188.62" y="269.05" width="0.64" height="2.95"/>
<rect x="223.54" y="251.96" width="1.59" height="1.48"/>
<rect x="164.33" y="287" width="0.8" height="1.52"/>
<rect x="209.99" y="280.18" width="0.94" height="1.16"/>
<rect x="208.78" y="252.97" width="1.38" height="1.89"/>
<rect x="204.54" y="256.88" width="1.03" height="2.86"/>
<rect x="168.58" y="270.54" width="1.53" height="2.17"/>
<rect x="192.86" y="289.59" width="1.33" height="2.48"/>
<rect x="212.76" y="281.61" width="0.88" height="1.08"/>
<rect x="164.96" y="270.84" width="1.35" height="1.38"/>
<rect x="187.07" y="259.16" width="0.81" height="1.52"/>
<rect x="190.14" y="259.61" width="1.07" height="2.4"/>
<rect x="203.04" y="254.04" width="1.01" height="2.07"/>
<rect x="179.84" y="264.57" width="0.85" height="2.32"/>
<rect x="182.47" y="251.52" width="1.02" height="2.69"/>
<rect x="166.28" y="253.39" width="0.66" height="1.38"/>
<rect x="178.31" y="275.14" width="0.98" height="2.36"/>
<rect x="177.69" y="253.97" width="1.52" height="2.13"/>
<rect x="189.77" y="252.54" width="1.19" height="2.78"/>
<rect x="169.87" y="252.68" width="1.04" height="2.32"/>
<rect x="163.56" y="257.39" width="1.59" height="2.44"/>
<rect x="210.95" y="281.62" width="0.67" height="2.6"/>
<rect x="176.88" y="258.84" width="1.55" height="1.54"/>
<rect x="172.57" y="283.2" width="1.01" height="2.65"/>
<rect x="172.03" y="267.51" width="0.78" height="1.26"/>
<rect x="195.72" y="267.23" width="0.84" height="2.81"/>
<rect x="202.86" y="260.43" width="0.72" height="2.62"/>
</g>
<g filter="url(#rough)" fill="none" stroke-linejoin="round">
<path d="M160,245.4 L222,238.1 Q227.2,237.9 227.8,242.5 L230.4,282 Q230.8,290.8 224,292.2 L169,298 Q160.6,298.6 158.8,290 L154.4,256 Q153.6,246.6 160,245.4 Z" stroke="#ffd800" stroke-width="4.2" stroke-opacity="0.9" stroke-dasharray="7 2 11 3 5 2"/>
<path d="M160,245.4 L222,238.1 Q227.2,237.9 227.8,242.5 L230.4,282 Q230.8,290.8 224,292.2 L169,298 Q160.6,298.6 158.8,290 L154.4,256 Q153.6,246.6 160,245.4 Z" stroke="#80ff50" stroke-width="3.1" stroke-dasharray="14 1.5 9 1 20 2"/>
<path d="M160,245.4 L222,238.1 Q227.2,237.9 227.8,242.5 L230.4,282 Q230.8,290.8 224,292.2 L169,298 Q160.6,298.6 158.8,290 L154.4,256 Q153.6,246.6 160,245.4 Z" stroke="#30e8c0" stroke-width="1.5" stroke-dasharray="7 4 5 5 10 3 4 6"/>
<g stroke="#1468ff" stroke-width="1.8" stroke-linecap="round">
<path d="M193,241.2 L221,237.9"/>
<path d="M227.4,241.5 L228.6,252"/>
<path d="M229.6,276 L230.2,286"/>
<path d="M160.5,294 L166,297"/>
<path d="M200,293.8 L214,292.4" stroke="#2890ff" stroke-width="1.2"/>
<path d="M154.6,262 L155.8,272" stroke="#2890ff" stroke-width="1.1"/>
</g>
<path d="M158.8,251 L162.3,290" stroke="#c8ff30" stroke-width="1" stroke-opacity="0.8"/>
<path d="M224.4,247 L226,283" stroke="#ffc800" stroke-width="0.9" stroke-opacity="0.8"/>
<path d="M211,246.8 L224,245.4" stroke="#ffe000" stroke-width="1.3" stroke-opacity="0.9"/>
<path d="M168,293 L222,287.8" stroke="#ff9000" stroke-width="0.8" stroke-opacity="0.6"/>
<path d="M171.3,248.4 L188,266" stroke="#ffd000" stroke-width="2.5"/>
<path d="M171.3,248.4 L188,266" stroke="#70f070" stroke-width="1.6"/>
<path d="M173,250.2 L187,265" stroke="#30e0d0" stroke-width="0.8" stroke-dasharray="4 2"/>
<path d="M189.4,266.6 L210.5,289.8" stroke="#ffe000" stroke-width="6.2" stroke-linecap="round"/>
<path d="M189.4,266.6 L210.5,289.8" stroke="#70ff60" stroke-width="4.9" stroke-linecap="round"/>
<path d="M189.4,266.6 L210.3,289.6" stroke="#20d8e8" stroke-width="3.2" stroke-dasharray="6 2 7 3"/>
<path d="M189.8,266.8 L193.2,270.4" stroke="#0a40e0" stroke-width="3.6" stroke-linecap="round"/>
<path d="M206,285 L209.8,289.2" stroke="#1a5cf0" stroke-width="2"/>
<path d="M195,272.6 L207.5,286.4" stroke="#ff2000" stroke-width="1.1" stroke-dasharray="4 1.2"/>
</g>
</g>
<rect x="110" y="212.8" width="181.5" height="109.7" fill="none" stroke="#222" stroke-width="0.8"/>
<g stroke="#222" stroke-width="0.8">
<line x1="109.7" y1="322.5" x2="109.7" y2="326.7"/>
<line x1="180.7" y1="322.5" x2="180.7" y2="326.7"/>
<line x1="251.7" y1="322.5" x2="251.7" y2="326.7"/>
<line x1="105.8" y1="213.6" x2="110" y2="213.6"/>
<line x1="105.8" y1="256.3" x2="110" y2="256.3"/>
<line x1="105.8" y1="299" x2="110" y2="299"/>
</g>
<g class="ser" font-size="11.6" fill="#222">
<text x="109.9" y="341" text-anchor="middle">0</text>
<text x="180.9" y="341" text-anchor="middle">200</text>
<text x="251.7" y="341" text-anchor="middle">400</text>
<text x="96.7" y="217.9" font-size="12.4" textLength="5.3" lengthAdjust="spacingAndGlyphs">0</text>
<text x="86.1" y="260.6" font-size="12.4" textLength="15.9" lengthAdjust="spacingAndGlyphs">100</text>
<text x="86.1" y="303.3" font-size="12.4" textLength="15.9" lengthAdjust="spacingAndGlyphs">200</text>
</g>
<text class="san" transform="translate(71.2,260.8) rotate(-90)" text-anchor="middle" font-size="8.5" font-style="italic" fill="#222">Pixel intensity</text>
<text class="san" x="194.5" y="356.4" text-anchor="middle" font-size="8.1" font-style="italic" font-weight="bold" fill="#333">Epoch</text>
<circle cx="264" cy="341" r="0.5" fill="#888"/>
</g>
<g id="hist2">
<g stroke="#bdbdbd" stroke-width="0.6">
<line x1="336.6" y1="216.2" x2="336.6" y2="317.5"/>
<line x1="360.62" y1="216.2" x2="360.62" y2="317.5"/>
<line x1="384.64" y1="216.2" x2="384.64" y2="317.5"/>
<line x1="408.66" y1="216.2" x2="408.66" y2="317.5"/>
<line x1="432.68" y1="216.2" x2="432.68" y2="317.5"/>
<line x1="456.7" y1="216.2" x2="456.7" y2="317.5"/>
<line x1="330.5" y1="296.7" x2="465.6" y2="296.7"/>
<line x1="330.5" y1="275.9" x2="465.6" y2="275.9"/>
<line x1="330.5" y1="255.1" x2="465.6" y2="255.1"/>
<line x1="330.5" y1="234.3" x2="465.6" y2="234.3"/>
</g>
<rect x="336.1" y="221" width="1" height="96.5" fill="#f08888"/>
<rect x="458.4" y="263" width="1.3" height="54.5" fill="#f58f8f"/>
<rect x="330.5" y="216.2" width="135.1" height="101.3" fill="none" stroke="#3a3a3a" stroke-width="0.9"/>
<g stroke="#3a3a3a" stroke-width="0.7">
<line x1="336.6" y1="317.5" x2="336.6" y2="319.5"/>
<line x1="360.62" y1="317.5" x2="360.62" y2="319.5"/>
<line x1="384.64" y1="317.5" x2="384.64" y2="319.5"/>
<line x1="408.66" y1="317.5" x2="408.66" y2="319.5"/>
<line x1="432.68" y1="317.5" x2="432.68" y2="319.5"/>
<line x1="456.7" y1="317.5" x2="456.7" y2="319.5"/>
<line x1="328.5" y1="317.5" x2="330.5" y2="317.5"/>
<line x1="328.5" y1="296.7" x2="330.5" y2="296.7"/>
<line x1="328.5" y1="275.9" x2="330.5" y2="275.9"/>
<line x1="328.5" y1="255.1" x2="330.5" y2="255.1"/>
<line x1="328.5" y1="234.3" x2="330.5" y2="234.3"/>
</g>
<g class="ser" font-size="6.8" fill="#262626" stroke="#262626" stroke-width="0.12">
<text x="335.12" y="327.7" textLength="2.95" lengthAdjust="spacingAndGlyphs">0</text>
<text x="357.67" y="327.7" textLength="5.9" lengthAdjust="spacingAndGlyphs">50</text>
<text x="380.22" y="327.7" textLength="8.85" lengthAdjust="spacingAndGlyphs">100</text>
<text x="404.24" y="327.7" textLength="8.85" lengthAdjust="spacingAndGlyphs">150</text>
<text x="428.25" y="327.7" textLength="8.85" lengthAdjust="spacingAndGlyphs">200</text>
<text x="452.28" y="327.7" textLength="8.85" lengthAdjust="spacingAndGlyphs">250</text>
<text x="323.85" y="319.8" textLength="2.95" lengthAdjust="spacingAndGlyphs">0</text>
<text x="312.05" y="299" textLength="14.75" lengthAdjust="spacingAndGlyphs">50000</text>
<text x="309.1" y="278.2" textLength="17.7" lengthAdjust="spacingAndGlyphs">100000</text>
<text x="309.1" y="257.4" textLength="17.7" lengthAdjust="spacingAndGlyphs">150000</text>
<text x="309.1" y="236.6" textLength="17.7" lengthAdjust="spacingAndGlyphs">200000</text>
</g>
<text class="san" x="319.8" y="346.9" font-size="8.3" font-style="italic" fill="#1a1a1a" stroke="#1a1a1a" stroke-width="0.25" textLength="101.6" lengthAdjust="spacingAndGlyphs">Terahertz and its histogram</text>
</g>
</g>
</svg>
</body></html>
